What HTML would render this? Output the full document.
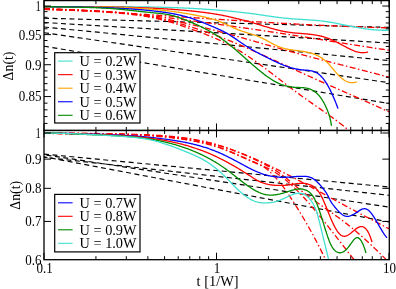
<!DOCTYPE html><html><head><meta charset="utf-8"><style>html,body{margin:0;padding:0;background:#fff;}svg{display:block}</style></head><body>
<svg width="396" height="289" viewBox="0 0 396 289">
<defs><clipPath id="ct"><rect x="44" y="0.6" width="345.3" height="129.85"/></clipPath><clipPath id="cb"><rect x="44" y="130.45" width="345.3" height="129.25"/></clipPath></defs>
<rect width="396" height="289" fill="#fff"/>
<g clip-path="url(#ct)" fill="none" stroke-linejoin="round">
<path d="M44.00,18.20 L389.00,27.40" stroke="#000" stroke-width="1.15" stroke-dasharray="5,3.5" stroke-dashoffset="0"/>
<path d="M44.00,22.50 L389.00,43.00" stroke="#000" stroke-width="1.15" stroke-dasharray="5,3.5" stroke-dashoffset="0"/>
<path d="M44.00,27.00 L389.00,60.60" stroke="#000" stroke-width="1.15" stroke-dasharray="5,3.5" stroke-dashoffset="0"/>
<path d="M44.00,32.70 L389.00,82.70" stroke="#000" stroke-width="1.15" stroke-dasharray="5,3.5" stroke-dashoffset="0"/>
<path d="M44.00,46.20 L389.00,103.50" stroke="#000" stroke-width="1.15" stroke-dasharray="5,3.5" stroke-dashoffset="0"/>
<path d="M44.00,8.44 L44.75,8.47 L45.50,8.51 L46.25,8.54 L47.00,8.58 L47.75,8.62 L48.50,8.65 L49.25,8.69 L50.00,8.72 L50.75,8.76 L51.50,8.80 L52.25,8.84 L53.00,8.87 L53.75,8.91 L54.50,8.95 L55.25,8.99 L56.00,9.02 L56.75,9.06 L57.50,9.10 L58.25,9.14 L59.00,9.18 L59.75,9.22 L60.50,9.25 L61.25,9.29 L62.00,9.33 L62.75,9.37 L63.50,9.41 L64.25,9.45 L65.00,9.49 L65.75,9.53 L66.50,9.57 L67.25,9.61 L68.00,9.65 L68.75,9.69 L69.50,9.73 L70.25,9.77 L71.00,9.81 L71.75,9.85 L72.50,9.90 L73.25,9.94 L74.00,9.98 L74.75,10.02 L75.50,10.06 L76.25,10.10 L77.00,10.15 L77.75,10.19 L78.50,10.23 L79.25,10.27 L80.00,10.32 L80.75,10.36 L81.50,10.40 L82.25,10.44 L83.00,10.49 L83.75,10.53 L84.50,10.57 L85.25,10.62 L86.00,10.66 L86.75,10.70 L87.50,10.75 L88.25,10.79 L89.00,10.84 L89.75,10.88 L90.50,10.93 L91.25,10.97 L92.00,11.01 L92.75,11.06 L93.50,11.10 L94.25,11.15 L95.00,11.19 L95.75,11.24 L96.50,11.28 L97.25,11.33 L98.00,11.37 L98.75,11.42 L99.50,11.47 L100.25,11.51 L101.00,11.56 L101.75,11.60 L102.50,11.65 L103.25,11.70 L104.00,11.74 L104.75,11.79 L105.50,11.83 L106.25,11.88 L107.00,11.93 L107.75,11.97 L108.50,12.02 L109.25,12.07 L110.00,12.11 L110.75,12.16 L111.50,12.21 L112.25,12.26 L113.00,12.30 L113.75,12.35 L114.50,12.40 L115.25,12.45 L116.00,12.49 L116.75,12.54 L117.50,12.59 L118.25,12.64 L119.00,12.69 L119.75,12.73 L120.50,12.78 L121.25,12.83 L122.00,12.88 L122.75,12.93 L123.50,12.97 L124.25,13.02 L125.00,13.07 L125.75,13.12 L126.50,13.17 L127.25,13.22 L128.00,13.27 L128.75,13.32 L129.50,13.36 L130.25,13.41 L131.00,13.46 L131.75,13.51 L132.50,13.56 L133.25,13.61 L134.00,13.66 L134.75,13.71 L135.50,13.76 L136.25,13.81 L137.00,13.86 L137.75,13.91 L138.50,13.96 L139.25,14.01 L140.00,14.06 L140.75,14.11 L141.50,14.16 L142.25,14.21 L143.00,14.26 L143.75,14.31 L144.50,14.36 L145.25,14.41 L146.00,14.46 L146.75,14.51 L147.50,14.56 L148.25,14.61 L149.00,14.66 L149.75,14.71 L150.50,14.76 L151.25,14.81 L152.00,14.86 L152.75,14.91 L153.50,14.96 L154.25,15.01 L155.00,15.06 L155.75,15.11 L156.50,15.16 L157.25,15.21 L158.00,15.26 L158.75,15.31 L159.50,15.37 L160.25,15.42 L161.00,15.47 L161.75,15.52 L162.50,15.57 L163.25,15.62 L164.00,15.67 L164.75,15.72 L165.50,15.77 L166.25,15.82 L167.00,15.87 L167.75,15.92 L168.50,15.98 L169.25,16.03 L170.00,16.08 L170.75,16.13 L171.50,16.18 L172.25,16.23 L173.00,16.28 L173.75,16.33 L174.50,16.38 L175.25,16.43 L176.00,16.49 L176.75,16.54 L177.50,16.59 L178.25,16.64 L179.00,16.69 L179.75,16.74 L180.50,16.79 L181.25,16.84 L182.00,16.89 L182.75,16.94 L183.50,17.00 L184.25,17.05 L185.00,17.10 L185.75,17.15 L186.50,17.20 L187.25,17.25 L188.00,17.30 L188.75,17.35 L189.50,17.40 L190.25,17.45 L191.00,17.50 L191.75,17.55 L192.50,17.61 L193.25,17.66 L194.00,17.71 L194.75,17.76 L195.50,17.81 L196.25,17.86 L197.00,17.91 L197.75,17.96 L198.50,18.01 L199.25,18.06 L200.00,18.11 L200.75,18.16 L201.50,18.21 L202.25,18.26 L203.00,18.31 L203.75,18.36 L204.50,18.41 L205.25,18.47 L206.00,18.52 L206.75,18.57 L207.50,18.62 L208.25,18.67 L209.00,18.72 L209.75,18.77 L210.50,18.82 L211.25,18.87 L212.00,18.92 L212.75,18.97 L213.50,19.02 L214.25,19.07 L215.00,19.12 L215.75,19.16 L216.50,19.21 L217.25,19.26 L218.00,19.31 L218.75,19.36 L219.50,19.41 L220.25,19.46 L221.00,19.51 L221.75,19.56 L222.50,19.61 L223.25,19.66 L224.00,19.71 L224.75,19.76 L225.50,19.81 L226.25,19.85 L227.00,19.90 L227.75,19.95 L228.50,20.00 L229.25,20.05 L230.00,20.10 L230.75,20.15 L231.50,20.19 L232.25,20.24 L233.00,20.29 L233.75,20.34 L234.50,20.39 L235.25,20.44 L236.00,20.48 L236.75,20.53 L237.50,20.58 L238.25,20.63 L239.00,20.67 L239.75,20.72 L240.50,20.77 L241.25,20.82 L242.00,20.86 L242.75,20.91 L243.50,20.96 L244.25,21.01 L245.00,21.05 L245.75,21.10 L246.50,21.15 L247.25,21.19 L248.00,21.24 L248.75,21.29 L249.50,21.33 L250.25,21.38 L251.00,21.43 L251.75,21.47 L252.50,21.52 L253.25,21.57 L254.00,21.61 L254.75,21.66 L255.50,21.70 L256.25,21.75 L257.00,21.80 L257.75,21.84 L258.50,21.89 L259.25,21.93 L260.00,21.98 L260.75,22.02 L261.50,22.07 L262.25,22.11 L263.00,22.16 L263.75,22.20 L264.50,22.25 L265.25,22.29 L266.00,22.34 L266.75,22.38 L267.50,22.43 L268.25,22.47 L269.00,22.52 L269.75,22.56 L270.50,22.60 L271.25,22.65 L272.00,22.69 L272.75,22.74 L273.50,22.78 L274.25,22.82 L275.00,22.87 L275.75,22.91 L276.50,22.95 L277.25,23.00 L278.00,23.04 L278.75,23.08 L279.50,23.13 L280.25,23.17 L281.00,23.21 L281.75,23.25 L282.50,23.30 L283.25,23.34 L284.00,23.38 L284.75,23.42 L285.50,23.46 L286.25,23.51 L287.00,23.55 L287.75,23.59 L288.50,23.63 L289.25,23.67 L290.00,23.71 L290.75,23.75 L291.50,23.80 L292.25,23.84 L293.00,23.88 L293.75,23.92 L294.50,23.96 L295.25,24.00 L296.00,24.04 L296.75,24.08 L297.50,24.12 L298.25,24.16 L299.00,24.20 L299.75,24.24 L300.50,24.28 L301.25,24.32 L302.00,24.36 L302.75,24.40 L303.50,24.44 L304.25,24.47 L305.00,24.51 L305.75,24.55 L306.50,24.59 L307.25,24.63 L308.00,24.67 L308.75,24.70 L309.50,24.74 L310.25,24.78 L311.00,24.82 L311.75,24.86 L312.50,24.89 L313.25,24.93 L314.00,24.97 L314.75,25.00 L315.50,25.04 L316.25,25.08 L317.00,25.11 L317.75,25.15 L318.50,25.19 L319.25,25.22 L320.00,25.26 L320.75,25.30 L321.50,25.33 L322.25,25.37 L323.00,25.40 L323.75,25.44 L324.50,25.47 L325.25,25.51 L326.00,25.54 L326.75,25.58 L327.50,25.61 L328.25,25.65 L329.00,25.68 L329.75,25.71 L330.50,25.75 L331.25,25.78 L332.00,25.82 L332.75,25.85 L333.50,25.88 L334.25,25.92 L335.00,25.95 L335.75,25.98 L336.50,26.01 L337.25,26.05 L338.00,26.08 L338.75,26.11 L339.50,26.14 L340.25,26.18 L341.00,26.21 L341.75,26.24 L342.50,26.27 L343.25,26.30 L344.00,26.33 L344.75,26.36 L345.50,26.39 L346.25,26.42 L347.00,26.46 L347.75,26.49 L348.50,26.52 L349.25,26.55 L350.00,26.58 L350.75,26.60 L351.50,26.63 L352.25,26.66 L353.00,26.69 L353.75,26.72 L354.50,26.75 L355.25,26.78 L356.00,26.81 L356.75,26.84 L357.50,26.86 L358.25,26.89 L359.00,26.92 L359.75,26.95 L360.50,26.97 L361.25,27.00 L362.00,27.03 L362.75,27.05 L363.50,27.08 L364.25,27.11 L365.00,27.13 L365.75,27.16 L366.50,27.19 L367.25,27.21 L368.00,27.24 L368.75,27.26 L369.50,27.29 L370.25,27.31 L371.00,27.34 L371.75,27.36 L372.50,27.39 L373.25,27.41 L374.00,27.43 L374.75,27.46 L375.50,27.48 L376.25,27.50 L377.00,27.53 L377.75,27.55 L378.50,27.57 L379.25,27.60 L380.00,27.62 L380.75,27.64 L381.50,27.66 L382.25,27.68 L383.00,27.71 L383.75,27.73 L384.50,27.75 L385.25,27.77 L386.00,27.79 L386.75,27.81 L387.50,27.83 L388.25,27.85 L389.00,27.87" stroke="#ff0000" stroke-width="1.3" stroke-dasharray="6,2.5,1.5,2.5"/>
<path d="M44.00,9.19 L44.75,9.19 L45.50,9.19 L46.25,9.20 L47.00,9.20 L47.75,9.20 L48.50,9.21 L49.25,9.22 L50.00,9.22 L50.75,9.23 L51.50,9.24 L52.25,9.25 L53.00,9.25 L53.75,9.26 L54.50,9.28 L55.25,9.29 L56.00,9.30 L56.75,9.31 L57.50,9.33 L58.25,9.34 L59.00,9.36 L59.75,9.37 L60.50,9.39 L61.25,9.41 L62.00,9.42 L62.75,9.44 L63.50,9.46 L64.25,9.48 L65.00,9.50 L65.75,9.53 L66.50,9.55 L67.25,9.57 L68.00,9.60 L68.75,9.62 L69.50,9.64 L70.25,9.67 L71.00,9.70 L71.75,9.72 L72.50,9.75 L73.25,9.78 L74.00,9.81 L74.75,9.84 L75.50,9.87 L76.25,9.90 L77.00,9.93 L77.75,9.96 L78.50,10.00 L79.25,10.03 L80.00,10.07 L80.75,10.10 L81.50,10.14 L82.25,10.17 L83.00,10.21 L83.75,10.25 L84.50,10.29 L85.25,10.32 L86.00,10.36 L86.75,10.40 L87.50,10.44 L88.25,10.49 L89.00,10.53 L89.75,10.57 L90.50,10.61 L91.25,10.66 L92.00,10.70 L92.75,10.75 L93.50,10.79 L94.25,10.84 L95.00,10.88 L95.75,10.93 L96.50,10.98 L97.25,11.03 L98.00,11.08 L98.75,11.13 L99.50,11.18 L100.25,11.23 L101.00,11.28 L101.75,11.33 L102.50,11.38 L103.25,11.43 L104.00,11.49 L104.75,11.54 L105.50,11.60 L106.25,11.65 L107.00,11.71 L107.75,11.76 L108.50,11.82 L109.25,11.88 L110.00,11.93 L110.75,11.99 L111.50,12.05 L112.25,12.11 L113.00,12.17 L113.75,12.23 L114.50,12.29 L115.25,12.35 L116.00,12.41 L116.75,12.48 L117.50,12.54 L118.25,12.60 L119.00,12.67 L119.75,12.73 L120.50,12.80 L121.25,12.86 L122.00,12.93 L122.75,12.99 L123.50,13.06 L124.25,13.13 L125.00,13.19 L125.75,13.26 L126.50,13.33 L127.25,13.40 L128.00,13.47 L128.75,13.54 L129.50,13.61 L130.25,13.68 L131.00,13.75 L131.75,13.82 L132.50,13.89 L133.25,13.97 L134.00,14.04 L134.75,14.11 L135.50,14.19 L136.25,14.26 L137.00,14.34 L137.75,14.41 L138.50,14.49 L139.25,14.56 L140.00,14.64 L140.75,14.72 L141.50,14.79 L142.25,14.87 L143.00,14.95 L143.75,15.03 L144.50,15.11 L145.25,15.19 L146.00,15.26 L146.75,15.34 L147.50,15.43 L148.25,15.51 L149.00,15.59 L149.75,15.67 L150.50,15.75 L151.25,15.83 L152.00,15.91 L152.75,16.00 L153.50,16.08 L154.25,16.16 L155.00,16.25 L155.75,16.33 L156.50,16.42 L157.25,16.50 L158.00,16.59 L158.75,16.67 L159.50,16.76 L160.25,16.85 L161.00,16.93 L161.75,17.02 L162.50,17.11 L163.25,17.19 L164.00,17.28 L164.75,17.37 L165.50,17.46 L166.25,17.55 L167.00,17.64 L167.75,17.73 L168.50,17.82 L169.25,17.91 L170.00,18.00 L170.75,18.09 L171.50,18.18 L172.25,18.27 L173.00,18.36 L173.75,18.45 L174.50,18.54 L175.25,18.64 L176.00,18.73 L176.75,18.82 L177.50,18.92 L178.25,19.01 L179.00,19.10 L179.75,19.20 L180.50,19.29 L181.25,19.39 L182.00,19.48 L182.75,19.57 L183.50,19.67 L184.25,19.77 L185.00,19.86 L185.75,19.96 L186.50,20.05 L187.25,20.15 L188.00,20.25 L188.75,20.34 L189.50,20.44 L190.25,20.54 L191.00,20.63 L191.75,20.73 L192.50,20.83 L193.25,20.93 L194.00,21.03 L194.75,21.12 L195.50,21.22 L196.25,21.32 L197.00,21.42 L197.75,21.52 L198.50,21.62 L199.25,21.72 L200.00,21.82 L200.75,21.92 L201.50,22.02 L202.25,22.12 L203.00,22.22 L203.75,22.32 L204.50,22.42 L205.25,22.52 L206.00,22.62 L206.75,22.72 L207.50,22.83 L208.25,22.93 L209.00,23.03 L209.75,23.13 L210.50,23.23 L211.25,23.33 L212.00,23.44 L212.75,23.54 L213.50,23.64 L214.25,23.74 L215.00,23.85 L215.75,23.95 L216.50,24.05 L217.25,24.16 L218.00,24.26 L218.75,24.36 L219.50,24.46 L220.25,24.57 L221.00,24.67 L221.75,24.78 L222.50,24.88 L223.25,24.98 L224.00,25.09 L224.75,25.19 L225.50,25.30 L226.25,25.40 L227.00,25.50 L227.75,25.61 L228.50,25.71 L229.25,25.82 L230.00,25.92 L230.75,26.03 L231.50,26.13 L232.25,26.24 L233.00,26.34 L233.75,26.45 L234.50,26.56 L235.25,26.66 L236.00,26.77 L236.75,26.87 L237.50,26.98 L238.25,27.09 L239.00,27.19 L239.75,27.30 L240.50,27.40 L241.25,27.51 L242.00,27.62 L242.75,27.72 L243.50,27.83 L244.25,27.94 L245.00,28.05 L245.75,28.15 L246.50,28.26 L247.25,28.37 L248.00,28.48 L248.75,28.58 L249.50,28.69 L250.25,28.80 L251.00,28.91 L251.75,29.02 L252.50,29.13 L253.25,29.23 L254.00,29.34 L254.75,29.45 L255.50,29.56 L256.25,29.67 L257.00,29.78 L257.75,29.89 L258.50,30.00 L259.25,30.11 L260.00,30.22 L260.75,30.33 L261.50,30.44 L262.25,30.55 L263.00,30.66 L263.75,30.77 L264.50,30.88 L265.25,30.99 L266.00,31.10 L266.75,31.21 L267.50,31.32 L268.25,31.44 L269.00,31.55 L269.75,31.66 L270.50,31.77 L271.25,31.88 L272.00,31.99 L272.75,32.11 L273.50,32.22 L274.25,32.33 L275.00,32.44 L275.75,32.56 L276.50,32.67 L277.25,32.78 L278.00,32.89 L278.75,33.01 L279.50,33.12 L280.25,33.23 L281.00,33.35 L281.75,33.46 L282.50,33.58 L283.25,33.69 L284.00,33.80 L284.75,33.92 L285.50,34.03 L286.25,34.15 L287.00,34.26 L287.75,34.38 L288.50,34.49 L289.25,34.61 L290.00,34.72 L290.75,34.84 L291.50,34.95 L292.25,35.07 L293.00,35.18 L293.75,35.30 L294.50,35.42 L295.25,35.53 L296.00,35.65 L296.75,35.77 L297.50,35.88 L298.25,36.00 L299.00,36.12 L299.75,36.23 L300.50,36.35 L301.25,36.47 L302.00,36.59 L302.75,36.70 L303.50,36.82 L304.25,36.94 L305.00,37.06 L305.75,37.18 L306.50,37.30 L307.25,37.42 L308.00,37.53 L308.75,37.65 L309.50,37.77 L310.25,37.89 L311.00,38.01 L311.75,38.13 L312.50,38.25 L313.25,38.37 L314.00,38.49 L314.75,38.61 L315.50,38.73 L316.25,38.85 L317.00,38.97 L317.75,39.09 L318.50,39.21 L319.25,39.33 L320.00,39.45 L320.75,39.57 L321.50,39.69 L322.25,39.81 L323.00,39.93 L323.75,40.05 L324.50,40.17 L325.25,40.29 L326.00,40.41 L326.75,40.53 L327.50,40.66 L328.25,40.78 L329.00,40.90 L329.75,41.02 L330.50,41.14 L331.25,41.26 L332.00,41.38 L332.75,41.50 L333.50,41.62 L334.25,41.74 L335.00,41.86 L335.75,41.98 L336.50,42.11 L337.25,42.23 L338.00,42.35 L338.75,42.47 L339.50,42.59 L340.25,42.71 L341.00,42.83 L341.75,42.95 L342.50,43.07 L343.25,43.19 L344.00,43.31 L344.75,43.43 L345.50,43.55 L346.25,43.67 L347.00,43.79 L347.75,43.91 L348.50,44.03 L349.25,44.15 L350.00,44.27 L350.75,44.39 L351.50,44.51 L352.25,44.63 L353.00,44.75 L353.75,44.87 L354.50,44.98 L355.25,45.10 L356.00,45.22 L356.75,45.34 L357.50,45.46 L358.25,45.58 L359.00,45.70 L359.75,45.81 L360.50,45.93 L361.25,46.05 L362.00,46.17 L362.75,46.28 L363.50,46.40 L364.25,46.52 L365.00,46.63 L365.75,46.75 L366.50,46.87 L367.25,46.98 L368.00,47.10 L368.75,47.22 L369.50,47.33 L370.25,47.45 L371.00,47.56 L371.75,47.68 L372.50,47.79 L373.25,47.91 L374.00,48.02 L374.75,48.13 L375.50,48.25 L376.25,48.36 L377.00,48.48 L377.75,48.59 L378.50,48.70 L379.25,48.81 L380.00,48.93 L380.75,49.04 L381.50,49.15 L382.25,49.26 L383.00,49.37 L383.75,49.48 L384.50,49.59 L385.25,49.71 L386.00,49.82 L386.75,49.93 L387.50,50.03 L388.25,50.14 L389.00,50.25" stroke="#ff0000" stroke-width="1.3" stroke-dasharray="6,2.5,1.5,2.5"/>
<path d="M44.00,9.21 L44.75,9.24 L45.50,9.27 L46.25,9.29 L47.00,9.32 L47.75,9.34 L48.50,9.37 L49.25,9.39 L50.00,9.41 L50.75,9.44 L51.50,9.46 L52.25,9.48 L53.00,9.51 L53.75,9.53 L54.50,9.55 L55.25,9.58 L56.00,9.60 L56.75,9.62 L57.50,9.64 L58.25,9.66 L59.00,9.69 L59.75,9.71 L60.50,9.73 L61.25,9.75 L62.00,9.77 L62.75,9.79 L63.50,9.81 L64.25,9.84 L65.00,9.86 L65.75,9.88 L66.50,9.90 L67.25,9.92 L68.00,9.94 L68.75,9.97 L69.50,9.99 L70.25,10.01 L71.00,10.03 L71.75,10.05 L72.50,10.08 L73.25,10.10 L74.00,10.12 L74.75,10.15 L75.50,10.17 L76.25,10.19 L77.00,10.22 L77.75,10.24 L78.50,10.27 L79.25,10.29 L80.00,10.32 L80.75,10.34 L81.50,10.37 L82.25,10.39 L83.00,10.42 L83.75,10.45 L84.50,10.47 L85.25,10.50 L86.00,10.53 L86.75,10.56 L87.50,10.59 L88.25,10.62 L89.00,10.65 L89.75,10.68 L90.50,10.71 L91.25,10.75 L92.00,10.78 L92.75,10.81 L93.50,10.85 L94.25,10.88 L95.00,10.92 L95.75,10.95 L96.50,10.99 L97.25,11.03 L98.00,11.06 L98.75,11.10 L99.50,11.14 L100.25,11.18 L101.00,11.22 L101.75,11.26 L102.50,11.31 L103.25,11.35 L104.00,11.40 L104.75,11.44 L105.50,11.49 L106.25,11.53 L107.00,11.58 L107.75,11.63 L108.50,11.68 L109.25,11.73 L110.00,11.78 L110.75,11.84 L111.50,11.89 L112.25,11.94 L113.00,12.00 L113.75,12.06 L114.50,12.11 L115.25,12.17 L116.00,12.23 L116.75,12.29 L117.50,12.36 L118.25,12.42 L119.00,12.48 L119.75,12.55 L120.50,12.62 L121.25,12.68 L122.00,12.75 L122.75,12.82 L123.50,12.90 L124.25,12.97 L125.00,13.04 L125.75,13.12 L126.50,13.20 L127.25,13.27 L128.00,13.35 L128.75,13.43 L129.50,13.52 L130.25,13.60 L131.00,13.69 L131.75,13.77 L132.50,13.86 L133.25,13.95 L134.00,14.04 L134.75,14.13 L135.50,14.23 L136.25,14.32 L137.00,14.42 L137.75,14.52 L138.50,14.62 L139.25,14.72 L140.00,14.82 L140.75,14.92 L141.50,15.03 L142.25,15.13 L143.00,15.24 L143.75,15.35 L144.50,15.46 L145.25,15.57 L146.00,15.68 L146.75,15.79 L147.50,15.91 L148.25,16.02 L149.00,16.14 L149.75,16.26 L150.50,16.38 L151.25,16.50 L152.00,16.62 L152.75,16.74 L153.50,16.87 L154.25,17.00 L155.00,17.12 L155.75,17.25 L156.50,17.38 L157.25,17.51 L158.00,17.64 L158.75,17.77 L159.50,17.91 L160.25,18.04 L161.00,18.18 L161.75,18.32 L162.50,18.45 L163.25,18.59 L164.00,18.73 L164.75,18.88 L165.50,19.02 L166.25,19.16 L167.00,19.31 L167.75,19.45 L168.50,19.60 L169.25,19.75 L170.00,19.90 L170.75,20.05 L171.50,20.20 L172.25,20.35 L173.00,20.50 L173.75,20.66 L174.50,20.81 L175.25,20.97 L176.00,21.12 L176.75,21.28 L177.50,21.44 L178.25,21.60 L179.00,21.76 L179.75,21.92 L180.50,22.08 L181.25,22.25 L182.00,22.41 L182.75,22.58 L183.50,22.74 L184.25,22.91 L185.00,23.08 L185.75,23.25 L186.50,23.42 L187.25,23.59 L188.00,23.76 L188.75,23.93 L189.50,24.10 L190.25,24.28 L191.00,24.45 L191.75,24.63 L192.50,24.80 L193.25,24.98 L194.00,25.16 L194.75,25.33 L195.50,25.51 L196.25,25.69 L197.00,25.87 L197.75,26.06 L198.50,26.24 L199.25,26.42 L200.00,26.60 L200.75,26.79 L201.50,26.97 L202.25,27.16 L203.00,27.34 L203.75,27.53 L204.50,27.72 L205.25,27.91 L206.00,28.10 L206.75,28.29 L207.50,28.48 L208.25,28.67 L209.00,28.86 L209.75,29.05 L210.50,29.24 L211.25,29.44 L212.00,29.63 L212.75,29.82 L213.50,30.02 L214.25,30.21 L215.00,30.41 L215.75,30.61 L216.50,30.80 L217.25,31.00 L218.00,31.20 L218.75,31.40 L219.50,31.60 L220.25,31.80 L221.00,32.00 L221.75,32.20 L222.50,32.40 L223.25,32.60 L224.00,32.80 L224.75,33.01 L225.50,33.21 L226.25,33.41 L227.00,33.62 L227.75,33.82 L228.50,34.02 L229.25,34.23 L230.00,34.43 L230.75,34.64 L231.50,34.85 L232.25,35.05 L233.00,35.26 L233.75,35.47 L234.50,35.67 L235.25,35.88 L236.00,36.09 L236.75,36.30 L237.50,36.51 L238.25,36.72 L239.00,36.93 L239.75,37.14 L240.50,37.35 L241.25,37.56 L242.00,37.77 L242.75,37.98 L243.50,38.19 L244.25,38.40 L245.00,38.61 L245.75,38.82 L246.50,39.03 L247.25,39.25 L248.00,39.46 L248.75,39.67 L249.50,39.88 L250.25,40.10 L251.00,40.31 L251.75,40.52 L252.50,40.73 L253.25,40.95 L254.00,41.16 L254.75,41.37 L255.50,41.59 L256.25,41.80 L257.00,42.01 L257.75,42.23 L258.50,42.44 L259.25,42.66 L260.00,42.87 L260.75,43.08 L261.50,43.30 L262.25,43.51 L263.00,43.73 L263.75,43.94 L264.50,44.15 L265.25,44.37 L266.00,44.58 L266.75,44.80 L267.50,45.01 L268.25,45.22 L269.00,45.44 L269.75,45.65 L270.50,45.87 L271.25,46.08 L272.00,46.29 L272.75,46.51 L273.50,46.72 L274.25,46.93 L275.00,47.15 L275.75,47.36 L276.50,47.57 L277.25,47.78 L278.00,48.00 L278.75,48.21 L279.50,48.42 L280.25,48.63 L281.00,48.85 L281.75,49.06 L282.50,49.27 L283.25,49.48 L284.00,49.69 L284.75,49.90 L285.50,50.11 L286.25,50.32 L287.00,50.53 L287.75,50.74 L288.50,50.95 L289.25,51.16 L290.00,51.37 L290.75,51.58 L291.50,51.79 L292.25,52.00 L293.00,52.20 L293.75,52.41 L294.50,52.62 L295.25,52.82 L296.00,53.03 L296.75,53.24 L297.50,53.44 L298.25,53.65 L299.00,53.85 L299.75,54.06 L300.50,54.26 L301.25,54.46 L302.00,54.67 L302.75,54.87 L303.50,55.07 L304.25,55.28 L305.00,55.48 L305.75,55.68 L306.50,55.88 L307.25,56.08 L308.00,56.28 L308.75,56.48 L309.50,56.68 L310.25,56.88 L311.00,57.07 L311.75,57.27 L312.50,57.47 L313.25,57.67 L314.00,57.86 L314.75,58.06 L315.50,58.26 L316.25,58.45 L317.00,58.65 L317.75,58.84 L318.50,59.04 L319.25,59.23 L320.00,59.43 L320.75,59.62 L321.50,59.82 L322.25,60.01 L323.00,60.20 L323.75,60.40 L324.50,60.59 L325.25,60.78 L326.00,60.98 L326.75,61.17 L327.50,61.36 L328.25,61.55 L329.00,61.74 L329.75,61.94 L330.50,62.13 L331.25,62.32 L332.00,62.51 L332.75,62.70 L333.50,62.89 L334.25,63.08 L335.00,63.27 L335.75,63.46 L336.50,63.65 L337.25,63.85 L338.00,64.04 L338.75,64.23 L339.50,64.42 L340.25,64.61 L341.00,64.80 L341.75,64.99 L342.50,65.18 L343.25,65.37 L344.00,65.56 L344.75,65.75 L345.50,65.94 L346.25,66.13 L347.00,66.32 L347.75,66.51 L348.50,66.70 L349.25,66.89 L350.00,67.08 L350.75,67.27 L351.50,67.46 L352.25,67.65 L353.00,67.84 L353.75,68.03 L354.50,68.22 L355.25,68.41 L356.00,68.60 L356.75,68.79 L357.50,68.98 L358.25,69.18 L359.00,69.37 L359.75,69.56 L360.50,69.75 L361.25,69.94 L362.00,70.13 L362.75,70.33 L363.50,70.52 L364.25,70.71 L365.00,70.90 L365.75,71.10 L366.50,71.29 L367.25,71.48 L368.00,71.68 L368.75,71.87 L369.50,72.07 L370.25,72.26 L371.00,72.46 L371.75,72.65 L372.50,72.85 L373.25,73.04 L374.00,73.24 L374.75,73.43 L375.50,73.63 L376.25,73.83 L377.00,74.03 L377.75,74.22 L378.50,74.42 L379.25,74.62 L380.00,74.82 L380.75,75.02 L381.50,75.22 L382.25,75.42 L383.00,75.62 L383.75,75.82 L384.50,76.02 L385.25,76.22 L386.00,76.42 L386.75,76.62 L387.50,76.83 L388.25,77.03 L389.00,77.23" stroke="#ff0000" stroke-width="1.3" stroke-dasharray="6,2.5,1.5,2.5"/>
<path d="M44.00,9.00 L44.75,9.05 L45.50,9.10 L46.25,9.15 L47.00,9.19 L47.75,9.24 L48.50,9.29 L49.25,9.33 L50.00,9.37 L50.75,9.42 L51.50,9.46 L52.25,9.50 L53.00,9.54 L53.75,9.58 L54.50,9.62 L55.25,9.66 L56.00,9.69 L56.75,9.73 L57.50,9.77 L58.25,9.80 L59.00,9.84 L59.75,9.87 L60.50,9.91 L61.25,9.94 L62.00,9.97 L62.75,10.01 L63.50,10.04 L64.25,10.07 L65.00,10.10 L65.75,10.13 L66.50,10.16 L67.25,10.19 L68.00,10.22 L68.75,10.25 L69.50,10.28 L70.25,10.31 L71.00,10.34 L71.75,10.36 L72.50,10.39 L73.25,10.42 L74.00,10.45 L74.75,10.47 L75.50,10.50 L76.25,10.53 L77.00,10.56 L77.75,10.58 L78.50,10.61 L79.25,10.64 L80.00,10.66 L80.75,10.69 L81.50,10.72 L82.25,10.74 L83.00,10.77 L83.75,10.80 L84.50,10.83 L85.25,10.85 L86.00,10.88 L86.75,10.91 L87.50,10.94 L88.25,10.96 L89.00,10.99 L89.75,11.02 L90.50,11.05 L91.25,11.08 L92.00,11.11 L92.75,11.14 L93.50,11.17 L94.25,11.20 L95.00,11.23 L95.75,11.26 L96.50,11.30 L97.25,11.33 L98.00,11.36 L98.75,11.40 L99.50,11.43 L100.25,11.47 L101.00,11.50 L101.75,11.54 L102.50,11.58 L103.25,11.62 L104.00,11.66 L104.75,11.70 L105.50,11.74 L106.25,11.78 L107.00,11.82 L107.75,11.87 L108.50,11.91 L109.25,11.96 L110.00,12.00 L110.75,12.05 L111.50,12.10 L112.25,12.15 L113.00,12.20 L113.75,12.26 L114.50,12.31 L115.25,12.37 L116.00,12.42 L116.75,12.48 L117.50,12.54 L118.25,12.60 L119.00,12.66 L119.75,12.73 L120.50,12.79 L121.25,12.86 L122.00,12.93 L122.75,13.00 L123.50,13.07 L124.25,13.14 L125.00,13.22 L125.75,13.29 L126.50,13.37 L127.25,13.45 L128.00,13.53 L128.75,13.62 L129.50,13.70 L130.25,13.79 L131.00,13.88 L131.75,13.97 L132.50,14.06 L133.25,14.16 L134.00,14.25 L134.75,14.35 L135.50,14.45 L136.25,14.56 L137.00,14.66 L137.75,14.77 L138.50,14.87 L139.25,14.98 L140.00,15.10 L140.75,15.21 L141.50,15.33 L142.25,15.44 L143.00,15.56 L143.75,15.68 L144.50,15.81 L145.25,15.93 L146.00,16.06 L146.75,16.19 L147.50,16.32 L148.25,16.45 L149.00,16.58 L149.75,16.72 L150.50,16.86 L151.25,17.00 L152.00,17.14 L152.75,17.28 L153.50,17.43 L154.25,17.57 L155.00,17.72 L155.75,17.87 L156.50,18.03 L157.25,18.18 L158.00,18.33 L158.75,18.49 L159.50,18.65 L160.25,18.81 L161.00,18.98 L161.75,19.14 L162.50,19.31 L163.25,19.47 L164.00,19.64 L164.75,19.82 L165.50,19.99 L166.25,20.16 L167.00,20.34 L167.75,20.52 L168.50,20.70 L169.25,20.88 L170.00,21.06 L170.75,21.25 L171.50,21.44 L172.25,21.62 L173.00,21.81 L173.75,22.01 L174.50,22.20 L175.25,22.40 L176.00,22.59 L176.75,22.79 L177.50,22.99 L178.25,23.19 L179.00,23.40 L179.75,23.60 L180.50,23.81 L181.25,24.02 L182.00,24.23 L182.75,24.44 L183.50,24.65 L184.25,24.87 L185.00,25.08 L185.75,25.30 L186.50,25.52 L187.25,25.74 L188.00,25.97 L188.75,26.19 L189.50,26.42 L190.25,26.65 L191.00,26.87 L191.75,27.11 L192.50,27.34 L193.25,27.57 L194.00,27.81 L194.75,28.04 L195.50,28.28 L196.25,28.52 L197.00,28.77 L197.75,29.01 L198.50,29.25 L199.25,29.50 L200.00,29.75 L200.75,30.00 L201.50,30.25 L202.25,30.50 L203.00,30.76 L203.75,31.01 L204.50,31.27 L205.25,31.53 L206.00,31.79 L206.75,32.05 L207.50,32.31 L208.25,32.58 L209.00,32.84 L209.75,33.11 L210.50,33.38 L211.25,33.65 L212.00,33.92 L212.75,34.19 L213.50,34.47 L214.25,34.74 L215.00,35.02 L215.75,35.30 L216.50,35.58 L217.25,35.86 L218.00,36.15 L218.75,36.43 L219.50,36.72 L220.25,37.00 L221.00,37.29 L221.75,37.58 L222.50,37.87 L223.25,38.17 L224.00,38.46 L224.75,38.76 L225.50,39.05 L226.25,39.35 L227.00,39.65 L227.75,39.95 L228.50,40.25 L229.25,40.55 L230.00,40.86 L230.75,41.16 L231.50,41.47 L232.25,41.78 L233.00,42.08 L233.75,42.39 L234.50,42.70 L235.25,43.02 L236.00,43.33 L236.75,43.64 L237.50,43.96 L238.25,44.27 L239.00,44.59 L239.75,44.91 L240.50,45.22 L241.25,45.54 L242.00,45.86 L242.75,46.18 L243.50,46.51 L244.25,46.83 L245.00,47.15 L245.75,47.48 L246.50,47.80 L247.25,48.13 L248.00,48.46 L248.75,48.78 L249.50,49.11 L250.25,49.44 L251.00,49.77 L251.75,50.10 L252.50,50.43 L253.25,50.76 L254.00,51.10 L254.75,51.43 L255.50,51.76 L256.25,52.10 L257.00,52.43 L257.75,52.77 L258.50,53.11 L259.25,53.44 L260.00,53.78 L260.75,54.12 L261.50,54.46 L262.25,54.80 L263.00,55.13 L263.75,55.47 L264.50,55.81 L265.25,56.16 L266.00,56.50 L266.75,56.84 L267.50,57.18 L268.25,57.52 L269.00,57.86 L269.75,58.21 L270.50,58.55 L271.25,58.89 L272.00,59.24 L272.75,59.58 L273.50,59.93 L274.25,60.27 L275.00,60.61 L275.75,60.96 L276.50,61.30 L277.25,61.65 L278.00,61.99 L278.75,62.34 L279.50,62.69 L280.25,63.03 L281.00,63.38 L281.75,63.72 L282.50,64.07 L283.25,64.41 L284.00,64.76 L284.75,65.11 L285.50,65.45 L286.25,65.80 L287.00,66.14 L287.75,66.49 L288.50,66.84 L289.25,67.18 L290.00,67.53 L290.75,67.87 L291.50,68.22 L292.25,68.56 L293.00,68.91 L293.75,69.25 L294.50,69.60 L295.25,69.94 L296.00,70.29 L296.75,70.63 L297.50,70.97 L298.25,71.32 L299.00,71.66 L299.75,72.00 L300.50,72.35 L301.25,72.69 L302.00,73.03 L302.75,73.37 L303.50,73.71 L304.25,74.05 L305.00,74.39 L305.75,74.73 L306.50,75.07 L307.25,75.41 L308.00,75.75 L308.75,76.09 L309.50,76.43 L310.25,76.77 L311.00,77.10 L311.75,77.44 L312.50,77.78 L313.25,78.11 L314.00,78.45 L314.75,78.79 L315.50,79.12 L316.25,79.46 L317.00,79.79 L317.75,80.13 L318.50,80.46 L319.25,80.80 L320.00,81.13 L320.75,81.46 L321.50,81.80 L322.25,82.13 L323.00,82.46 L323.75,82.80 L324.50,83.13 L325.25,83.46 L326.00,83.80 L326.75,84.13 L327.50,84.46 L328.25,84.79 L329.00,85.13 L329.75,85.46 L330.50,85.79 L331.25,86.12 L332.00,86.45 L332.75,86.78 L333.50,87.11 L334.25,87.45 L335.00,87.78 L335.75,88.11 L336.50,88.44 L337.25,88.77 L338.00,89.10 L338.75,89.43 L339.50,89.76 L340.25,90.09 L341.00,90.42 L341.75,90.75 L342.50,91.08 L343.25,91.41 L344.00,91.74 L344.75,92.07 L345.50,92.41 L346.25,92.74 L347.00,93.07 L347.75,93.40 L348.50,93.73 L349.25,94.06 L350.00,94.39 L350.75,94.72 L351.50,95.05 L352.25,95.38 L353.00,95.71 L353.75,96.04 L354.50,96.37 L355.25,96.71 L356.00,97.04 L356.75,97.37 L357.50,97.70 L358.25,98.03 L359.00,98.36 L359.75,98.70 L360.50,99.03 L361.25,99.36 L362.00,99.69 L362.75,100.03 L363.50,100.36 L364.25,100.69 L365.00,101.03 L365.75,101.36 L366.50,101.69 L367.25,102.03 L368.00,102.36 L368.75,102.70 L369.50,103.03 L370.25,103.37 L371.00,103.70 L371.75,104.04 L372.50,104.37 L373.25,104.71 L374.00,105.04 L374.75,105.38 L375.50,105.72 L376.25,106.06 L377.00,106.39 L377.75,106.73 L378.50,107.07 L379.25,107.41 L380.00,107.75 L380.75,108.09 L381.50,108.42 L382.25,108.76 L383.00,109.11 L383.75,109.45 L384.50,109.79 L385.25,110.13 L386.00,110.47 L386.75,110.81 L387.50,111.16 L388.25,111.50 L389.00,111.84" stroke="#ff0000" stroke-width="1.3" stroke-dasharray="6,2.5,1.5,2.5"/>
<path d="M44.00,9.41 L44.75,9.43 L45.50,9.46 L46.25,9.48 L47.00,9.51 L47.75,9.53 L48.50,9.56 L49.25,9.58 L50.00,9.60 L50.75,9.63 L51.50,9.65 L52.25,9.68 L53.00,9.70 L53.75,9.73 L54.50,9.75 L55.25,9.78 L56.00,9.80 L56.75,9.83 L57.50,9.85 L58.25,9.88 L59.00,9.90 L59.75,9.93 L60.50,9.95 L61.25,9.98 L62.00,10.01 L62.75,10.03 L63.50,10.06 L64.25,10.08 L65.00,10.11 L65.75,10.14 L66.50,10.16 L67.25,10.19 L68.00,10.22 L68.75,10.25 L69.50,10.27 L70.25,10.30 L71.00,10.33 L71.75,10.36 L72.50,10.39 L73.25,10.42 L74.00,10.45 L74.75,10.48 L75.50,10.51 L76.25,10.54 L77.00,10.57 L77.75,10.60 L78.50,10.63 L79.25,10.66 L80.00,10.70 L80.75,10.73 L81.50,10.76 L82.25,10.80 L83.00,10.83 L83.75,10.86 L84.50,10.90 L85.25,10.93 L86.00,10.97 L86.75,11.01 L87.50,11.04 L88.25,11.08 L89.00,11.12 L89.75,11.16 L90.50,11.20 L91.25,11.23 L92.00,11.27 L92.75,11.32 L93.50,11.36 L94.25,11.40 L95.00,11.44 L95.75,11.48 L96.50,11.53 L97.25,11.57 L98.00,11.62 L98.75,11.66 L99.50,11.71 L100.25,11.75 L101.00,11.80 L101.75,11.85 L102.50,11.90 L103.25,11.95 L104.00,12.00 L104.75,12.05 L105.50,12.10 L106.25,12.15 L107.00,12.20 L107.75,12.26 L108.50,12.31 L109.25,12.37 L110.00,12.42 L110.75,12.48 L111.50,12.54 L112.25,12.60 L113.00,12.66 L113.75,12.72 L114.50,12.78 L115.25,12.84 L116.00,12.90 L116.75,12.97 L117.50,13.03 L118.25,13.10 L119.00,13.16 L119.75,13.23 L120.50,13.30 L121.25,13.37 L122.00,13.44 L122.75,13.51 L123.50,13.58 L124.25,13.66 L125.00,13.73 L125.75,13.81 L126.50,13.88 L127.25,13.96 L128.00,14.04 L128.75,14.12 L129.50,14.20 L130.25,14.29 L131.00,14.37 L131.75,14.46 L132.50,14.55 L133.25,14.64 L134.00,14.73 L134.75,14.83 L135.50,14.92 L136.25,15.02 L137.00,15.12 L137.75,15.22 L138.50,15.32 L139.25,15.43 L140.00,15.54 L140.75,15.64 L141.50,15.76 L142.25,15.87 L143.00,15.99 L143.75,16.11 L144.50,16.23 L145.25,16.35 L146.00,16.47 L146.75,16.60 L147.50,16.73 L148.25,16.87 L149.00,17.00 L149.75,17.14 L150.50,17.28 L151.25,17.43 L152.00,17.57 L152.75,17.72 L153.50,17.88 L154.25,18.03 L155.00,18.19 L155.75,18.35 L156.50,18.52 L157.25,18.69 L158.00,18.86 L158.75,19.03 L159.50,19.21 L160.25,19.39 L161.00,19.57 L161.75,19.76 L162.50,19.95 L163.25,20.15 L164.00,20.34 L164.75,20.54 L165.50,20.74 L166.25,20.95 L167.00,21.16 L167.75,21.37 L168.50,21.58 L169.25,21.80 L170.00,22.02 L170.75,22.24 L171.50,22.46 L172.25,22.69 L173.00,22.91 L173.75,23.15 L174.50,23.38 L175.25,23.61 L176.00,23.85 L176.75,24.09 L177.50,24.33 L178.25,24.57 L179.00,24.82 L179.75,25.07 L180.50,25.31 L181.25,25.56 L182.00,25.82 L182.75,26.07 L183.50,26.33 L184.25,26.58 L185.00,26.84 L185.75,27.10 L186.50,27.36 L187.25,27.63 L188.00,27.89 L188.75,28.15 L189.50,28.42 L190.25,28.69 L191.00,28.96 L191.75,29.23 L192.50,29.50 L193.25,29.77 L194.00,30.04 L194.75,30.31 L195.50,30.59 L196.25,30.86 L197.00,31.13 L197.75,31.41 L198.50,31.69 L199.25,31.96 L200.00,32.24 L200.75,32.52 L201.50,32.80 L202.25,33.08 L203.00,33.36 L203.75,33.65 L204.50,33.93 L205.25,34.22 L206.00,34.51 L206.75,34.80 L207.50,35.09 L208.25,35.39 L209.00,35.69 L209.75,35.99 L210.50,36.29 L211.25,36.60 L212.00,36.91 L212.75,37.22 L213.50,37.53 L214.25,37.85 L215.00,38.17 L215.75,38.49 L216.50,38.82 L217.25,39.15 L218.00,39.49 L218.75,39.83 L219.50,40.17 L220.25,40.51 L221.00,40.86 L221.75,41.22 L222.50,41.58 L223.25,41.94 L224.00,42.30 L224.75,42.67 L225.50,43.05 L226.25,43.43 L227.00,43.81 L227.75,44.19 L228.50,44.58 L229.25,44.98 L230.00,45.38 L230.75,45.78 L231.50,46.19 L232.25,46.60 L233.00,47.02 L233.75,47.44 L234.50,47.86 L235.25,48.29 L236.00,48.72 L236.75,49.16 L237.50,49.61 L238.25,50.05 L239.00,50.50 L239.75,50.96 L240.50,51.42 L241.25,51.88 L242.00,52.35 L242.75,52.82 L243.50,53.30 L244.25,53.78 L245.00,54.26 L245.75,54.75 L246.50,55.24 L247.25,55.74 L248.00,56.24 L248.75,56.74 L249.50,57.24 L250.25,57.75 L251.00,58.26 L251.75,58.78 L252.50,59.29 L253.25,59.81 L254.00,60.34 L254.75,60.86 L255.50,61.39 L256.25,61.92 L257.00,62.46 L257.75,62.99 L258.50,63.53 L259.25,64.07 L260.00,64.62 L260.75,65.16 L261.50,65.71 L262.25,66.26 L263.00,66.81 L263.75,67.37 L264.50,67.92 L265.25,68.48 L266.00,69.04 L266.75,69.60 L267.50,70.17 L268.25,70.73 L269.00,71.30 L269.75,71.87 L270.50,72.43 L271.25,73.00 L272.00,73.58 L272.75,74.15 L273.50,74.72 L274.25,75.30 L275.00,75.87 L275.75,76.45 L276.50,77.02 L277.25,77.60 L278.00,78.18 L278.75,78.76 L279.50,79.33 L280.25,79.91 L281.00,80.49 L281.75,81.07 L282.50,81.65 L283.25,82.22 L284.00,82.80 L284.75,83.38 L285.50,83.95 L286.25,84.53 L287.00,85.10 L287.75,85.67 L288.50,86.24 L289.25,86.81 L290.00,87.38 L290.75,87.95 L291.50,88.51 L292.25,89.08 L293.00,89.64 L293.75,90.20 L294.50,90.76 L295.25,91.31 L296.00,91.87 L296.75,92.42 L297.50,92.97 L298.25,93.52 L299.00,94.06 L299.75,94.61 L300.50,95.15 L301.25,95.69 L302.00,96.23 L302.75,96.77 L303.50,97.31 L304.25,97.84 L305.00,98.38 L305.75,98.91 L306.50,99.44 L307.25,99.97 L308.00,100.50 L308.75,101.03 L309.50,101.56 L310.25,102.08 L311.00,102.61 L311.75,103.13 L312.50,103.65 L313.25,104.18 L314.00,104.70 L314.75,105.22 L315.50,105.74 L316.25,106.26 L317.00,106.78 L317.75,107.30 L318.50,107.82 L319.25,108.34 L320.00,108.86 L320.75,109.38 L321.50,109.90 L322.25,110.42 L323.00,110.94 L323.75,111.46 L324.50,111.99 L325.25,112.52 L326.00,113.04 L326.75,113.57 L327.50,114.10 L328.25,114.63 L329.00,115.17 L329.75,115.70 L330.50,116.24 L331.25,116.78 L332.00,117.32 L332.75,117.87 L333.50,118.42 L334.25,118.97 L335.00,119.52 L335.75,120.08 L336.50,120.64 L337.25,121.20 L338.00,121.76 L338.75,122.33 L339.50,122.91 L340.25,123.48 L341.00,124.07 L341.75,124.65 L342.50,125.24 L343.25,125.84 L344.00,126.43 L344.75,127.04 L345.50,127.64 L346.25,128.26 L347.00,128.87 L347.75,129.50 L348.50,130.12 L349.25,130.76 L350.00,131.40" stroke="#ff0000" stroke-width="1.3" stroke-dasharray="6,2.5,1.5,2.5"/>
<path d="M44.00,6.54 L44.75,6.55 L45.50,6.56 L46.25,6.57 L47.00,6.57 L47.75,6.58 L48.50,6.58 L49.25,6.59 L50.00,6.60 L50.75,6.60 L51.50,6.61 L52.25,6.61 L53.00,6.62 L53.75,6.62 L54.50,6.62 L55.25,6.63 L56.00,6.63 L56.75,6.64 L57.50,6.64 L58.25,6.64 L59.00,6.65 L59.75,6.65 L60.50,6.65 L61.25,6.65 L62.00,6.66 L62.75,6.66 L63.50,6.66 L64.25,6.66 L65.00,6.67 L65.75,6.67 L66.50,6.67 L67.25,6.67 L68.00,6.67 L68.75,6.67 L69.50,6.67 L70.25,6.67 L71.00,6.68 L71.75,6.68 L72.50,6.68 L73.25,6.68 L74.00,6.68 L74.75,6.68 L75.50,6.68 L76.25,6.68 L77.00,6.68 L77.75,6.68 L78.50,6.68 L79.25,6.68 L80.00,6.68 L80.75,6.68 L81.50,6.68 L82.25,6.68 L83.00,6.68 L83.75,6.68 L84.50,6.68 L85.25,6.68 L86.00,6.68 L86.75,6.68 L87.50,6.68 L88.25,6.68 L89.00,6.68 L89.75,6.68 L90.50,6.68 L91.25,6.67 L92.00,6.67 L92.75,6.67 L93.50,6.67 L94.25,6.67 L95.00,6.67 L95.75,6.67 L96.50,6.67 L97.25,6.67 L98.00,6.67 L98.75,6.67 L99.50,6.67 L100.25,6.67 L101.00,6.67 L101.75,6.67 L102.50,6.67 L103.25,6.67 L104.00,6.67 L104.75,6.67 L105.50,6.67 L106.25,6.67 L107.00,6.67 L107.75,6.67 L108.50,6.68 L109.25,6.68 L110.00,6.68 L110.75,6.68 L111.50,6.68 L112.25,6.68 L113.00,6.68 L113.75,6.68 L114.50,6.69 L115.25,6.69 L116.00,6.69 L116.75,6.69 L117.50,6.70 L118.25,6.70 L119.00,6.70 L119.75,6.70 L120.50,6.71 L121.25,6.71 L122.00,6.71 L122.75,6.72 L123.50,6.72 L124.25,6.72 L125.00,6.73 L125.75,6.73 L126.50,6.74 L127.25,6.74 L128.00,6.75 L128.75,6.75 L129.50,6.76 L130.25,6.76 L131.00,6.77 L131.75,6.78 L132.50,6.78 L133.25,6.79 L134.00,6.80 L134.75,6.80 L135.50,6.81 L136.25,6.82 L137.00,6.83 L137.75,6.83 L138.50,6.84 L139.25,6.85 L140.00,6.86 L140.75,6.87 L141.50,6.88 L142.25,6.89 L143.00,6.90 L143.75,6.91 L144.50,6.92 L145.25,6.93 L146.00,6.94 L146.75,6.95 L147.50,6.96 L148.25,6.98 L149.00,6.99 L149.75,7.00 L150.50,7.02 L151.25,7.03 L152.00,7.04 L152.75,7.06 L153.50,7.07 L154.25,7.09 L155.00,7.10 L155.75,7.12 L156.50,7.13 L157.25,7.15 L158.00,7.17 L158.75,7.18 L159.50,7.20 L160.25,7.22 L161.00,7.24 L161.75,7.26 L162.50,7.28 L163.25,7.30 L164.00,7.32 L164.75,7.34 L165.50,7.36 L166.25,7.38 L167.00,7.40 L167.75,7.42 L168.50,7.45 L169.25,7.47 L170.00,7.49 L170.75,7.52 L171.50,7.54 L172.25,7.57 L173.00,7.59 L173.75,7.62 L174.50,7.64 L175.25,7.67 L176.00,7.70 L176.75,7.72 L177.50,7.75 L178.25,7.78 L179.00,7.81 L179.75,7.84 L180.50,7.87 L181.25,7.90 L182.00,7.93 L182.75,7.96 L183.50,8.00 L184.25,8.03 L185.00,8.06 L185.75,8.10 L186.50,8.13 L187.25,8.17 L188.00,8.20 L188.75,8.24 L189.50,8.27 L190.25,8.31 L191.00,8.35 L191.75,8.39 L192.50,8.43 L193.25,8.47 L194.00,8.51 L194.75,8.55 L195.50,8.59 L196.25,8.63 L197.00,8.67 L197.75,8.71 L198.50,8.76 L199.25,8.80 L200.00,8.85 L200.75,8.89 L201.50,8.94 L202.25,8.98 L203.00,9.03 L203.75,9.08 L204.50,9.13 L205.25,9.18 L206.00,9.23 L206.75,9.28 L207.50,9.33 L208.25,9.38 L209.00,9.43 L209.75,9.49 L210.50,9.54 L211.25,9.60 L212.00,9.65 L212.75,9.71 L213.50,9.76 L214.25,9.82 L215.00,9.88 L215.75,9.94 L216.50,10.00 L217.25,10.06 L218.00,10.12 L218.75,10.18 L219.50,10.24 L220.25,10.30 L221.00,10.37 L221.75,10.43 L222.50,10.50 L223.25,10.56 L224.00,10.63 L224.75,10.70 L225.50,10.77 L226.25,10.83 L227.00,10.90 L227.75,10.97 L228.50,11.05 L229.25,11.12 L230.00,11.19 L230.75,11.26 L231.50,11.34 L232.25,11.41 L233.00,11.49 L233.75,11.57 L234.50,11.64 L235.25,11.72 L236.00,11.80 L236.75,11.88 L237.50,11.96 L238.25,12.04 L239.00,12.12 L239.75,12.21 L240.50,12.29 L241.25,12.38 L242.00,12.46 L242.75,12.55 L243.50,12.64 L244.25,12.72 L245.00,12.81 L245.75,12.90 L246.50,12.99 L247.25,13.09 L248.00,13.18 L248.75,13.27 L249.50,13.37 L250.25,13.46 L251.00,13.56 L251.75,13.65 L252.50,13.75 L253.25,13.85 L254.00,13.95 L254.75,14.05 L255.50,14.15 L256.25,14.25 L257.00,14.36 L257.75,14.46 L258.50,14.56 L259.25,14.67 L260.00,14.78 L260.75,14.89 L261.50,14.99 L262.25,15.10 L263.00,15.21 L263.75,15.32 L264.50,15.43 L265.25,15.54 L266.00,15.66 L266.75,15.77 L267.50,15.88 L268.25,15.99 L269.00,16.10 L269.75,16.21 L270.50,16.32 L271.25,16.42 L272.00,16.53 L272.75,16.64 L273.50,16.74 L274.25,16.85 L275.00,16.95 L275.75,17.05 L276.50,17.15 L277.25,17.25 L278.00,17.35 L278.75,17.45 L279.50,17.54 L280.25,17.63 L281.00,17.72 L281.75,17.80 L282.50,17.89 L283.25,17.97 L284.00,18.05 L284.75,18.13 L285.50,18.20 L286.25,18.27 L287.00,18.35 L287.75,18.41 L288.50,18.48 L289.25,18.55 L290.00,18.61 L290.75,18.67 L291.50,18.73 L292.25,18.79 L293.00,18.85 L293.75,18.90 L294.50,18.96 L295.25,19.01 L296.00,19.06 L296.75,19.12 L297.50,19.17 L298.25,19.22 L299.00,19.27 L299.75,19.31 L300.50,19.36 L301.25,19.41 L302.00,19.46 L302.75,19.50 L303.50,19.55 L304.25,19.60 L305.00,19.64 L305.75,19.69 L306.50,19.73 L307.25,19.78 L308.00,19.83 L308.75,19.88 L309.50,19.93 L310.25,19.98 L311.00,20.03 L311.75,20.08 L312.50,20.14 L313.25,20.19 L314.00,20.25 L314.75,20.31 L315.50,20.37 L316.25,20.44 L317.00,20.50 L317.75,20.57 L318.50,20.64 L319.25,20.72 L320.00,20.79 L320.75,20.87 L321.50,20.96 L322.25,21.05 L323.00,21.14 L323.75,21.23 L324.50,21.33 L325.25,21.43 L326.00,21.54 L326.75,21.65 L327.50,21.76 L328.25,21.88 L329.00,22.00 L329.75,22.12 L330.50,22.25 L331.25,22.38 L332.00,22.51 L332.75,22.65 L333.50,22.79 L334.25,22.93 L335.00,23.07 L335.75,23.21 L336.50,23.36 L337.25,23.51 L338.00,23.66 L338.75,23.81 L339.50,23.96 L340.25,24.11 L341.00,24.27 L341.75,24.42 L342.50,24.57 L343.25,24.73 L344.00,24.88 L344.75,25.04 L345.50,25.19 L346.25,25.35 L347.00,25.50 L347.75,25.66 L348.50,25.81 L349.25,25.96 L350.00,26.12 L350.75,26.27 L351.50,26.41 L352.25,26.56 L353.00,26.71 L353.75,26.85 L354.50,27.00 L355.25,27.14 L356.00,27.28 L356.75,27.42 L357.50,27.55 L358.25,27.69 L359.00,27.82 L359.75,27.95 L360.50,28.08 L361.25,28.20 L362.00,28.32 L362.75,28.44 L363.50,28.55 L364.25,28.67 L365.00,28.78 L365.75,28.88 L366.50,28.98 L367.25,29.08 L368.00,29.18 L368.75,29.27 L369.50,29.35 L370.25,29.44 L371.00,29.52 L371.75,29.59 L372.50,29.66 L373.25,29.73 L374.00,29.80 L374.75,29.85 L375.50,29.91 L376.25,29.96 L377.00,30.01 L377.75,30.05 L378.50,30.09 L379.25,30.13 L380.00,30.16 L380.75,30.19 L381.50,30.21 L382.25,30.23 L383.00,30.24 L383.75,30.25 L384.50,30.26 L385.25,30.26 L386.00,30.26 L386.75,30.25 L387.50,30.24 L388.25,30.22 L389.00,30.20" stroke="#40e0d0" stroke-width="1.3"/>
<path d="M44.00,6.73 L44.75,6.73 L45.50,6.73 L46.25,6.73 L47.00,6.73 L47.75,6.73 L48.50,6.73 L49.25,6.73 L50.00,6.72 L50.75,6.72 L51.50,6.72 L52.25,6.72 L53.00,6.72 L53.75,6.72 L54.50,6.72 L55.25,6.72 L56.00,6.72 L56.75,6.72 L57.50,6.72 L58.25,6.72 L59.00,6.72 L59.75,6.72 L60.50,6.72 L61.25,6.72 L62.00,6.72 L62.75,6.72 L63.50,6.72 L64.25,6.72 L65.00,6.72 L65.75,6.72 L66.50,6.72 L67.25,6.72 L68.00,6.72 L68.75,6.72 L69.50,6.72 L70.25,6.72 L71.00,6.72 L71.75,6.72 L72.50,6.73 L73.25,6.73 L74.00,6.73 L74.75,6.73 L75.50,6.73 L76.25,6.74 L77.00,6.74 L77.75,6.74 L78.50,6.74 L79.25,6.75 L80.00,6.75 L80.75,6.75 L81.50,6.75 L82.25,6.76 L83.00,6.76 L83.75,6.76 L84.50,6.77 L85.25,6.77 L86.00,6.78 L86.75,6.78 L87.50,6.78 L88.25,6.79 L89.00,6.79 L89.75,6.80 L90.50,6.80 L91.25,6.81 L92.00,6.82 L92.75,6.82 L93.50,6.83 L94.25,6.83 L95.00,6.84 L95.75,6.85 L96.50,6.85 L97.25,6.86 L98.00,6.87 L98.75,6.87 L99.50,6.88 L100.25,6.89 L101.00,6.90 L101.75,6.91 L102.50,6.92 L103.25,6.92 L104.00,6.93 L104.75,6.94 L105.50,6.95 L106.25,6.96 L107.00,6.97 L107.75,6.98 L108.50,6.99 L109.25,7.00 L110.00,7.01 L110.75,7.02 L111.50,7.04 L112.25,7.05 L113.00,7.06 L113.75,7.07 L114.50,7.08 L115.25,7.10 L116.00,7.11 L116.75,7.12 L117.50,7.14 L118.25,7.15 L119.00,7.17 L119.75,7.18 L120.50,7.20 L121.25,7.21 L122.00,7.23 L122.75,7.24 L123.50,7.26 L124.25,7.27 L125.00,7.29 L125.75,7.31 L126.50,7.33 L127.25,7.34 L128.00,7.36 L128.75,7.38 L129.50,7.40 L130.25,7.42 L131.00,7.44 L131.75,7.46 L132.50,7.48 L133.25,7.50 L134.00,7.52 L134.75,7.54 L135.50,7.56 L136.25,7.58 L137.00,7.61 L137.75,7.63 L138.50,7.65 L139.25,7.68 L140.00,7.70 L140.75,7.73 L141.50,7.75 L142.25,7.78 L143.00,7.80 L143.75,7.83 L144.50,7.86 L145.25,7.89 L146.00,7.92 L146.75,7.94 L147.50,7.97 L148.25,8.00 L149.00,8.04 L149.75,8.07 L150.50,8.10 L151.25,8.13 L152.00,8.16 L152.75,8.20 L153.50,8.23 L154.25,8.27 L155.00,8.30 L155.75,8.34 L156.50,8.38 L157.25,8.42 L158.00,8.45 L158.75,8.49 L159.50,8.53 L160.25,8.57 L161.00,8.61 L161.75,8.66 L162.50,8.70 L163.25,8.74 L164.00,8.79 L164.75,8.83 L165.50,8.88 L166.25,8.92 L167.00,8.97 L167.75,9.02 L168.50,9.07 L169.25,9.12 L170.00,9.17 L170.75,9.22 L171.50,9.27 L172.25,9.32 L173.00,9.38 L173.75,9.43 L174.50,9.49 L175.25,9.54 L176.00,9.60 L176.75,9.66 L177.50,9.72 L178.25,9.78 L179.00,9.84 L179.75,9.90 L180.50,9.96 L181.25,10.03 L182.00,10.09 L182.75,10.16 L183.50,10.22 L184.25,10.29 L185.00,10.36 L185.75,10.43 L186.50,10.50 L187.25,10.57 L188.00,10.64 L188.75,10.72 L189.50,10.79 L190.25,10.87 L191.00,10.94 L191.75,11.02 L192.50,11.10 L193.25,11.18 L194.00,11.26 L194.75,11.34 L195.50,11.42 L196.25,11.51 L197.00,11.59 L197.75,11.68 L198.50,11.77 L199.25,11.86 L200.00,11.95 L200.75,12.04 L201.50,12.13 L202.25,12.22 L203.00,12.32 L203.75,12.41 L204.50,12.51 L205.25,12.61 L206.00,12.71 L206.75,12.81 L207.50,12.91 L208.25,13.01 L209.00,13.12 L209.75,13.22 L210.50,13.33 L211.25,13.44 L212.00,13.55 L212.75,13.67 L213.50,13.78 L214.25,13.90 L215.00,14.02 L215.75,14.14 L216.50,14.26 L217.25,14.39 L218.00,14.52 L218.75,14.65 L219.50,14.78 L220.25,14.92 L221.00,15.06 L221.75,15.20 L222.50,15.34 L223.25,15.49 L224.00,15.64 L224.75,15.80 L225.50,15.95 L226.25,16.11 L227.00,16.28 L227.75,16.44 L228.50,16.61 L229.25,16.79 L230.00,16.96 L230.75,17.14 L231.50,17.32 L232.25,17.50 L233.00,17.68 L233.75,17.86 L234.50,18.04 L235.25,18.23 L236.00,18.41 L236.75,18.59 L237.50,18.77 L238.25,18.95 L239.00,19.13 L239.75,19.31 L240.50,19.49 L241.25,19.66 L242.00,19.85 L242.75,20.03 L243.50,20.21 L244.25,20.39 L245.00,20.58 L245.75,20.77 L246.50,20.97 L247.25,21.16 L248.00,21.36 L248.75,21.57 L249.50,21.77 L250.25,21.98 L251.00,22.20 L251.75,22.41 L252.50,22.63 L253.25,22.85 L254.00,23.07 L254.75,23.30 L255.50,23.52 L256.25,23.75 L257.00,23.98 L257.75,24.21 L258.50,24.44 L259.25,24.67 L260.00,24.90 L260.75,25.13 L261.50,25.36 L262.25,25.60 L263.00,25.83 L263.75,26.06 L264.50,26.29 L265.25,26.52 L266.00,26.75 L266.75,26.98 L267.50,27.21 L268.25,27.43 L269.00,27.65 L269.75,27.88 L270.50,28.10 L271.25,28.31 L272.00,28.53 L272.75,28.74 L273.50,28.95 L274.25,29.15 L275.00,29.36 L275.75,29.56 L276.50,29.75 L277.25,29.94 L278.00,30.13 L278.75,30.31 L279.50,30.49 L280.25,30.67 L281.00,30.84 L281.75,31.00 L282.50,31.16 L283.25,31.31 L284.00,31.46 L284.75,31.60 L285.50,31.74 L286.25,31.87 L287.00,31.99 L287.75,32.11 L288.50,32.22 L289.25,32.33 L290.00,32.43 L290.75,32.52 L291.50,32.61 L292.25,32.70 L293.00,32.78 L293.75,32.86 L294.50,32.93 L295.25,33.01 L296.00,33.07 L296.75,33.14 L297.50,33.20 L298.25,33.27 L299.00,33.33 L299.75,33.39 L300.50,33.45 L301.25,33.51 L302.00,33.57 L302.75,33.63 L303.50,33.69 L304.25,33.75 L305.00,33.81 L305.75,33.87 L306.50,33.94 L307.25,34.01 L308.00,34.08 L308.75,34.16 L309.50,34.24 L310.25,34.32 L311.00,34.41 L311.75,34.50 L312.50,34.59 L313.25,34.69 L314.00,34.80 L314.75,34.91 L315.50,35.03 L316.25,35.16 L317.00,35.29 L317.75,35.43 L318.50,35.58 L319.25,35.74 L320.00,35.90 L320.75,36.07 L321.50,36.25 L322.25,36.45 L323.00,36.65 L323.75,36.86 L324.50,37.08 L325.25,37.31 L326.00,37.55 L326.75,37.81 L327.50,38.07 L328.25,38.35 L329.00,38.64 L329.75,38.95 L330.50,39.26 L331.25,39.58 L332.00,39.92 L332.75,40.26 L333.50,40.61 L334.25,40.97 L335.00,41.33 L335.75,41.70 L336.50,42.08 L337.25,42.46 L338.00,42.84 L338.75,43.23 L339.50,43.63 L340.25,44.02 L341.00,44.42 L341.75,44.82 L342.50,45.21 L343.25,45.61 L344.00,46.01 L344.75,46.40 L345.50,46.80 L346.25,47.19 L347.00,47.57 L347.75,47.96 L348.50,48.33 L349.25,48.71 L350.00,49.07 L350.75,49.43 L351.50,49.77 L352.25,50.10 L353.00,50.43 L353.75,50.73 L354.50,51.02 L355.25,51.29 L356.00,51.55 L356.75,51.78 L357.50,51.99 L358.25,52.18 L359.00,52.34 L359.75,52.48 L360.50,52.59 L361.25,52.67 L362.00,52.72 L362.75,52.74 L363.50,52.72 L364.25,52.67 L365.00,52.59 L365.75,52.46 L366.50,52.30 L367.25,52.10 L368.00,51.85" stroke="#ff0000" stroke-width="1.3"/>
<path d="M44.00,6.58 L44.75,6.59 L45.50,6.60 L46.25,6.61 L47.00,6.62 L47.75,6.63 L48.50,6.64 L49.25,6.65 L50.00,6.66 L50.75,6.67 L51.50,6.68 L52.25,6.68 L53.00,6.69 L53.75,6.70 L54.50,6.71 L55.25,6.71 L56.00,6.72 L56.75,6.73 L57.50,6.73 L58.25,6.74 L59.00,6.74 L59.75,6.75 L60.50,6.75 L61.25,6.76 L62.00,6.76 L62.75,6.77 L63.50,6.77 L64.25,6.78 L65.00,6.78 L65.75,6.79 L66.50,6.79 L67.25,6.79 L68.00,6.80 L68.75,6.80 L69.50,6.80 L70.25,6.81 L71.00,6.81 L71.75,6.82 L72.50,6.82 L73.25,6.82 L74.00,6.83 L74.75,6.83 L75.50,6.83 L76.25,6.84 L77.00,6.84 L77.75,6.84 L78.50,6.85 L79.25,6.85 L80.00,6.85 L80.75,6.86 L81.50,6.86 L82.25,6.87 L83.00,6.87 L83.75,6.88 L84.50,6.88 L85.25,6.88 L86.00,6.89 L86.75,6.89 L87.50,6.90 L88.25,6.91 L89.00,6.91 L89.75,6.92 L90.50,6.92 L91.25,6.93 L92.00,6.94 L92.75,6.94 L93.50,6.95 L94.25,6.96 L95.00,6.97 L95.75,6.97 L96.50,6.98 L97.25,6.99 L98.00,7.00 L98.75,7.01 L99.50,7.02 L100.25,7.03 L101.00,7.04 L101.75,7.05 L102.50,7.06 L103.25,7.07 L104.00,7.09 L104.75,7.10 L105.50,7.11 L106.25,7.13 L107.00,7.14 L107.75,7.15 L108.50,7.17 L109.25,7.18 L110.00,7.20 L110.75,7.22 L111.50,7.23 L112.25,7.25 L113.00,7.27 L113.75,7.29 L114.50,7.31 L115.25,7.33 L116.00,7.35 L116.75,7.37 L117.50,7.39 L118.25,7.41 L119.00,7.44 L119.75,7.46 L120.50,7.49 L121.25,7.51 L122.00,7.54 L122.75,7.56 L123.50,7.59 L124.25,7.62 L125.00,7.65 L125.75,7.68 L126.50,7.71 L127.25,7.74 L128.00,7.77 L128.75,7.80 L129.50,7.84 L130.25,7.87 L131.00,7.90 L131.75,7.94 L132.50,7.98 L133.25,8.01 L134.00,8.05 L134.75,8.09 L135.50,8.13 L136.25,8.17 L137.00,8.22 L137.75,8.26 L138.50,8.30 L139.25,8.35 L140.00,8.39 L140.75,8.44 L141.50,8.49 L142.25,8.53 L143.00,8.58 L143.75,8.63 L144.50,8.69 L145.25,8.74 L146.00,8.79 L146.75,8.85 L147.50,8.90 L148.25,8.96 L149.00,9.02 L149.75,9.08 L150.50,9.14 L151.25,9.20 L152.00,9.26 L152.75,9.32 L153.50,9.39 L154.25,9.45 L155.00,9.52 L155.75,9.59 L156.50,9.66 L157.25,9.73 L158.00,9.80 L158.75,9.87 L159.50,9.95 L160.25,10.02 L161.00,10.10 L161.75,10.18 L162.50,10.26 L163.25,10.34 L164.00,10.42 L164.75,10.50 L165.50,10.59 L166.25,10.67 L167.00,10.76 L167.75,10.85 L168.50,10.94 L169.25,11.03 L170.00,11.12 L170.75,11.22 L171.50,11.31 L172.25,11.41 L173.00,11.51 L173.75,11.61 L174.50,11.71 L175.25,11.81 L176.00,11.92 L176.75,12.02 L177.50,12.13 L178.25,12.24 L179.00,12.35 L179.75,12.46 L180.50,12.57 L181.25,12.69 L182.00,12.80 L182.75,12.92 L183.50,13.04 L184.25,13.16 L185.00,13.29 L185.75,13.41 L186.50,13.54 L187.25,13.66 L188.00,13.79 L188.75,13.92 L189.50,14.06 L190.25,14.19 L191.00,14.33 L191.75,14.46 L192.50,14.60 L193.25,14.74 L194.00,14.89 L194.75,15.03 L195.50,15.18 L196.25,15.33 L197.00,15.48 L197.75,15.63 L198.50,15.78 L199.25,15.94 L200.00,16.09 L200.75,16.25 L201.50,16.41 L202.25,16.57 L203.00,16.74 L203.75,16.91 L204.50,17.08 L205.25,17.25 L206.00,17.43 L206.75,17.61 L207.50,17.79 L208.25,17.98 L209.00,18.17 L209.75,18.37 L210.50,18.57 L211.25,18.78 L212.00,19.00 L212.75,19.21 L213.50,19.44 L214.25,19.67 L215.00,19.91 L215.75,20.15 L216.50,20.40 L217.25,20.66 L218.00,20.93 L218.75,21.20 L219.50,21.48 L220.25,21.78 L221.00,22.07 L221.75,22.38 L222.50,22.70 L223.25,23.02 L224.00,23.35 L224.75,23.69 L225.50,24.03 L226.25,24.37 L227.00,24.72 L227.75,25.07 L228.50,25.43 L229.25,25.78 L230.00,26.14 L230.75,26.49 L231.50,26.84 L232.25,27.20 L233.00,27.54 L233.75,27.89 L234.50,28.23 L235.25,28.57 L236.00,28.90 L236.75,29.22 L237.50,29.53 L238.25,29.84 L239.00,30.14 L239.75,30.43 L240.50,30.71 L241.25,30.98 L242.00,31.24 L242.75,31.49 L243.50,31.73 L244.25,31.97 L245.00,32.20 L245.75,32.43 L246.50,32.65 L247.25,32.87 L248.00,33.09 L248.75,33.31 L249.50,33.53 L250.25,33.75 L251.00,33.98 L251.75,34.20 L252.50,34.43 L253.25,34.67 L254.00,34.91 L254.75,35.16 L255.50,35.41 L256.25,35.68 L257.00,35.95 L257.75,36.24 L258.50,36.53 L259.25,36.84 L260.00,37.16 L260.75,37.50 L261.50,37.85 L262.25,38.21 L263.00,38.58 L263.75,38.96 L264.50,39.35 L265.25,39.75 L266.00,40.15 L266.75,40.56 L267.50,40.97 L268.25,41.38 L269.00,41.79 L269.75,42.21 L270.50,42.62 L271.25,43.02 L272.00,43.43 L272.75,43.83 L273.50,44.22 L274.25,44.60 L275.00,44.97 L275.75,45.34 L276.50,45.69 L277.25,46.03 L278.00,46.35 L278.75,46.66 L279.50,46.96 L280.25,47.23 L281.00,47.49 L281.75,47.74 L282.50,47.97 L283.25,48.19 L284.00,48.39 L284.75,48.58 L285.50,48.76 L286.25,48.93 L287.00,49.09 L287.75,49.24 L288.50,49.38 L289.25,49.52 L290.00,49.64 L290.75,49.76 L291.50,49.88 L292.25,49.98 L293.00,50.09 L293.75,50.19 L294.50,50.29 L295.25,50.38 L296.00,50.47 L296.75,50.57 L297.50,50.66 L298.25,50.75 L299.00,50.85 L299.75,50.95 L300.50,51.05 L301.25,51.15 L302.00,51.26 L302.75,51.37 L303.50,51.49 L304.25,51.61 L305.00,51.74 L305.75,51.88 L306.50,52.03 L307.25,52.19 L308.00,52.35 L308.75,52.53 L309.50,52.72 L310.25,52.92 L311.00,53.13 L311.75,53.36 L312.50,53.60 L313.25,53.86 L314.00,54.13 L314.75,54.42 L315.50,54.73 L316.25,55.05 L317.00,55.39 L317.75,55.75 L318.50,56.13 L319.25,56.54 L320.00,56.96 L320.75,57.41 L321.50,57.88 L322.25,58.38 L323.00,58.91 L323.75,59.47 L324.50,60.05 L325.25,60.67 L326.00,61.32 L326.75,62.01 L327.50,62.73 L328.25,63.49 L329.00,64.28 L329.75,65.11 L330.50,65.96 L331.25,66.83 L332.00,67.71 L332.75,68.61 L333.50,69.51 L334.25,70.41 L335.00,71.30 L335.75,72.18 L336.50,73.05 L337.25,73.89 L338.00,74.71 L338.75,75.49 L339.50,76.24 L340.25,76.96 L341.00,77.64 L341.75,78.28 L342.50,78.89 L343.25,79.45 L344.00,79.98 L344.75,80.45 L345.50,80.89 L346.25,81.28 L347.00,81.62 L347.75,81.92 L348.50,82.17 L349.25,82.36 L350.00,82.51 L350.75,82.61 L351.50,82.67 L352.25,82.68 L353.00,82.65 L353.75,82.57 L354.50,82.46 L355.25,82.30 L356.00,82.11 L356.75,81.88 L357.00,81.79" stroke="#ffa500" stroke-width="1.3"/>
<path d="M44.00,6.72 L44.75,6.72 L45.50,6.72 L46.25,6.72 L47.00,6.72 L47.75,6.72 L48.50,6.72 L49.25,6.72 L50.00,6.72 L50.75,6.73 L51.50,6.73 L52.25,6.73 L53.00,6.73 L53.75,6.74 L54.50,6.74 L55.25,6.74 L56.00,6.74 L56.75,6.75 L57.50,6.75 L58.25,6.76 L59.00,6.76 L59.75,6.76 L60.50,6.77 L61.25,6.77 L62.00,6.78 L62.75,6.78 L63.50,6.79 L64.25,6.79 L65.00,6.80 L65.75,6.81 L66.50,6.81 L67.25,6.82 L68.00,6.83 L68.75,6.83 L69.50,6.84 L70.25,6.85 L71.00,6.86 L71.75,6.87 L72.50,6.88 L73.25,6.88 L74.00,6.89 L74.75,6.90 L75.50,6.91 L76.25,6.92 L77.00,6.94 L77.75,6.95 L78.50,6.96 L79.25,6.97 L80.00,6.98 L80.75,7.00 L81.50,7.01 L82.25,7.02 L83.00,7.04 L83.75,7.05 L84.50,7.07 L85.25,7.08 L86.00,7.10 L86.75,7.11 L87.50,7.13 L88.25,7.14 L89.00,7.16 L89.75,7.18 L90.50,7.20 L91.25,7.22 L92.00,7.23 L92.75,7.25 L93.50,7.27 L94.25,7.29 L95.00,7.32 L95.75,7.34 L96.50,7.36 L97.25,7.38 L98.00,7.40 L98.75,7.43 L99.50,7.45 L100.25,7.47 L101.00,7.50 L101.75,7.52 L102.50,7.55 L103.25,7.58 L104.00,7.60 L104.75,7.63 L105.50,7.66 L106.25,7.69 L107.00,7.72 L107.75,7.75 L108.50,7.78 L109.25,7.81 L110.00,7.84 L110.75,7.87 L111.50,7.90 L112.25,7.93 L113.00,7.97 L113.75,8.00 L114.50,8.04 L115.25,8.07 L116.00,8.11 L116.75,8.14 L117.50,8.18 L118.25,8.22 L119.00,8.26 L119.75,8.30 L120.50,8.34 L121.25,8.38 L122.00,8.42 L122.75,8.46 L123.50,8.50 L124.25,8.55 L125.00,8.59 L125.75,8.64 L126.50,8.68 L127.25,8.73 L128.00,8.77 L128.75,8.82 L129.50,8.87 L130.25,8.92 L131.00,8.97 L131.75,9.02 L132.50,9.07 L133.25,9.13 L134.00,9.18 L134.75,9.24 L135.50,9.29 L136.25,9.35 L137.00,9.41 L137.75,9.47 L138.50,9.53 L139.25,9.59 L140.00,9.65 L140.75,9.71 L141.50,9.77 L142.25,9.84 L143.00,9.91 L143.75,9.97 L144.50,10.04 L145.25,10.11 L146.00,10.18 L146.75,10.25 L147.50,10.32 L148.25,10.40 L149.00,10.47 L149.75,10.55 L150.50,10.63 L151.25,10.70 L152.00,10.78 L152.75,10.86 L153.50,10.95 L154.25,11.03 L155.00,11.11 L155.75,11.20 L156.50,11.29 L157.25,11.38 L158.00,11.47 L158.75,11.56 L159.50,11.65 L160.25,11.75 L161.00,11.85 L161.75,11.94 L162.50,12.05 L163.25,12.15 L164.00,12.25 L164.75,12.36 L165.50,12.47 L166.25,12.59 L167.00,12.70 L167.75,12.82 L168.50,12.94 L169.25,13.06 L170.00,13.19 L170.75,13.32 L171.50,13.45 L172.25,13.58 L173.00,13.72 L173.75,13.86 L174.50,14.01 L175.25,14.16 L176.00,14.31 L176.75,14.46 L177.50,14.62 L178.25,14.79 L179.00,14.95 L179.75,15.12 L180.50,15.30 L181.25,15.48 L182.00,15.66 L182.75,15.85 L183.50,16.04 L184.25,16.23 L185.00,16.43 L185.75,16.64 L186.50,16.85 L187.25,17.06 L188.00,17.28 L188.75,17.50 L189.50,17.73 L190.25,17.97 L191.00,18.21 L191.75,18.45 L192.50,18.70 L193.25,18.95 L194.00,19.21 L194.75,19.48 L195.50,19.74 L196.25,20.01 L197.00,20.29 L197.75,20.57 L198.50,20.85 L199.25,21.14 L200.00,21.43 L200.75,21.72 L201.50,22.01 L202.25,22.31 L203.00,22.61 L203.75,22.91 L204.50,23.21 L205.25,23.52 L206.00,23.82 L206.75,24.13 L207.50,24.44 L208.25,24.75 L209.00,25.06 L209.75,25.37 L210.50,25.69 L211.25,26.00 L212.00,26.31 L212.75,26.63 L213.50,26.94 L214.25,27.26 L215.00,27.58 L215.75,27.91 L216.50,28.24 L217.25,28.57 L218.00,28.91 L218.75,29.25 L219.50,29.59 L220.25,29.95 L221.00,30.30 L221.75,30.67 L222.50,31.04 L223.25,31.42 L224.00,31.81 L224.75,32.20 L225.50,32.60 L226.25,33.02 L227.00,33.44 L227.75,33.87 L228.50,34.31 L229.25,34.76 L230.00,35.22 L230.75,35.69 L231.50,36.17 L232.25,36.65 L233.00,37.14 L233.75,37.64 L234.50,38.14 L235.25,38.64 L236.00,39.15 L236.75,39.66 L237.50,40.18 L238.25,40.69 L239.00,41.21 L239.75,41.72 L240.50,42.24 L241.25,42.75 L242.00,43.26 L242.75,43.77 L243.50,44.28 L244.25,44.78 L245.00,45.28 L245.75,45.77 L246.50,46.25 L247.25,46.73 L248.00,47.20 L248.75,47.67 L249.50,48.12 L250.25,48.57 L251.00,49.02 L251.75,49.46 L252.50,49.89 L253.25,50.32 L254.00,50.74 L254.75,51.16 L255.50,51.57 L256.25,51.98 L257.00,52.38 L257.75,52.78 L258.50,53.18 L259.25,53.58 L260.00,53.97 L260.75,54.36 L261.50,54.74 L262.25,55.13 L263.00,55.51 L263.75,55.89 L264.50,56.27 L265.25,56.65 L266.00,57.03 L266.75,57.41 L267.50,57.78 L268.25,58.16 L269.00,58.53 L269.75,58.90 L270.50,59.27 L271.25,59.64 L272.00,60.00 L272.75,60.37 L273.50,60.72 L274.25,61.08 L275.00,61.43 L275.75,61.78 L276.50,62.12 L277.25,62.46 L278.00,62.80 L278.75,63.13 L279.50,63.45 L280.25,63.78 L281.00,64.09 L281.75,64.40 L282.50,64.71 L283.25,65.00 L284.00,65.30 L284.75,65.58 L285.50,65.86 L286.25,66.14 L287.00,66.40 L287.75,66.66 L288.50,66.91 L289.25,67.15 L290.00,67.39 L290.75,67.61 L291.50,67.83 L292.25,68.04 L293.00,68.24 L293.75,68.44 L294.50,68.62 L295.25,68.79 L296.00,68.96 L296.75,69.11 L297.50,69.25 L298.25,69.39 L299.00,69.51 L299.75,69.62 L300.50,69.72 L301.25,69.81 L302.00,69.89 L302.75,69.95 L303.50,70.01 L304.25,70.06 L305.00,70.11 L305.75,70.16 L306.50,70.21 L307.25,70.27 L308.00,70.34 L308.75,70.43 L309.50,70.53 L310.25,70.64 L311.00,70.78 L311.75,70.95 L312.50,71.14 L313.25,71.36 L314.00,71.62 L314.75,71.91 L315.50,72.25 L316.25,72.63 L317.00,73.05 L317.75,73.53 L318.50,74.05 L319.25,74.63 L320.00,75.28 L320.75,75.98 L321.50,76.74 L322.25,77.57 L323.00,78.45 L323.75,79.40 L324.50,80.41 L325.25,81.47 L326.00,82.60 L326.75,83.79 L327.50,85.04 L328.25,86.34 L329.00,87.71 L329.75,89.14 L330.50,90.62 L331.25,92.16 L332.00,93.76 L332.75,95.42 L333.50,97.14 L334.25,98.91 L335.00,100.75 L335.75,102.63 L336.50,104.58 L337.25,106.58 L338.00,108.64" stroke="#0000ff" stroke-width="1.3"/>
<path d="M44.00,6.58 L44.75,6.59 L45.50,6.61 L46.25,6.63 L47.00,6.65 L47.75,6.66 L48.50,6.68 L49.25,6.70 L50.00,6.71 L50.75,6.73 L51.50,6.74 L52.25,6.76 L53.00,6.77 L53.75,6.78 L54.50,6.80 L55.25,6.81 L56.00,6.82 L56.75,6.83 L57.50,6.85 L58.25,6.86 L59.00,6.87 L59.75,6.88 L60.50,6.89 L61.25,6.91 L62.00,6.92 L62.75,6.93 L63.50,6.94 L64.25,6.95 L65.00,6.96 L65.75,6.97 L66.50,6.99 L67.25,7.00 L68.00,7.01 L68.75,7.02 L69.50,7.03 L70.25,7.04 L71.00,7.06 L71.75,7.07 L72.50,7.08 L73.25,7.09 L74.00,7.11 L74.75,7.12 L75.50,7.13 L76.25,7.15 L77.00,7.16 L77.75,7.18 L78.50,7.19 L79.25,7.21 L80.00,7.22 L80.75,7.24 L81.50,7.26 L82.25,7.27 L83.00,7.29 L83.75,7.31 L84.50,7.33 L85.25,7.35 L86.00,7.37 L86.75,7.39 L87.50,7.41 L88.25,7.43 L89.00,7.46 L89.75,7.48 L90.50,7.51 L91.25,7.53 L92.00,7.56 L92.75,7.58 L93.50,7.61 L94.25,7.64 L95.00,7.67 L95.75,7.70 L96.50,7.73 L97.25,7.76 L98.00,7.80 L98.75,7.83 L99.50,7.86 L100.25,7.90 L101.00,7.94 L101.75,7.98 L102.50,8.01 L103.25,8.05 L104.00,8.10 L104.75,8.14 L105.50,8.18 L106.25,8.23 L107.00,8.27 L107.75,8.32 L108.50,8.37 L109.25,8.42 L110.00,8.47 L110.75,8.52 L111.50,8.58 L112.25,8.63 L113.00,8.69 L113.75,8.75 L114.50,8.81 L115.25,8.87 L116.00,8.93 L116.75,8.99 L117.50,9.06 L118.25,9.13 L119.00,9.19 L119.75,9.26 L120.50,9.33 L121.25,9.41 L122.00,9.48 L122.75,9.55 L123.50,9.63 L124.25,9.70 L125.00,9.78 L125.75,9.86 L126.50,9.94 L127.25,10.02 L128.00,10.09 L128.75,10.18 L129.50,10.26 L130.25,10.34 L131.00,10.42 L131.75,10.50 L132.50,10.58 L133.25,10.67 L134.00,10.75 L134.75,10.83 L135.50,10.92 L136.25,11.00 L137.00,11.08 L137.75,11.16 L138.50,11.25 L139.25,11.33 L140.00,11.41 L140.75,11.50 L141.50,11.58 L142.25,11.66 L143.00,11.74 L143.75,11.82 L144.50,11.90 L145.25,11.98 L146.00,12.06 L146.75,12.14 L147.50,12.21 L148.25,12.29 L149.00,12.36 L149.75,12.44 L150.50,12.51 L151.25,12.58 L152.00,12.65 L152.75,12.72 L153.50,12.79 L154.25,12.86 L155.00,12.93 L155.75,13.00 L156.50,13.07 L157.25,13.14 L158.00,13.21 L158.75,13.29 L159.50,13.37 L160.25,13.45 L161.00,13.54 L161.75,13.63 L162.50,13.72 L163.25,13.82 L164.00,13.92 L164.75,14.03 L165.50,14.15 L166.25,14.27 L167.00,14.40 L167.75,14.54 L168.50,14.68 L169.25,14.83 L170.00,15.00 L170.75,15.17 L171.50,15.35 L172.25,15.54 L173.00,15.74 L173.75,15.94 L174.50,16.15 L175.25,16.37 L176.00,16.60 L176.75,16.84 L177.50,17.08 L178.25,17.33 L179.00,17.58 L179.75,17.84 L180.50,18.11 L181.25,18.38 L182.00,18.65 L182.75,18.93 L183.50,19.21 L184.25,19.50 L185.00,19.79 L185.75,20.09 L186.50,20.39 L187.25,20.69 L188.00,20.99 L188.75,21.30 L189.50,21.61 L190.25,21.92 L191.00,22.23 L191.75,22.55 L192.50,22.87 L193.25,23.19 L194.00,23.51 L194.75,23.84 L195.50,24.17 L196.25,24.51 L197.00,24.85 L197.75,25.19 L198.50,25.53 L199.25,25.88 L200.00,26.24 L200.75,26.60 L201.50,26.96 L202.25,27.33 L203.00,27.70 L203.75,28.07 L204.50,28.46 L205.25,28.84 L206.00,29.23 L206.75,29.63 L207.50,30.03 L208.25,30.44 L209.00,30.85 L209.75,31.27 L210.50,31.69 L211.25,32.12 L212.00,32.56 L212.75,33.00 L213.50,33.45 L214.25,33.90 L215.00,34.36 L215.75,34.83 L216.50,35.30 L217.25,35.78 L218.00,36.27 L218.75,36.77 L219.50,37.27 L220.25,37.78 L221.00,38.29 L221.75,38.82 L222.50,39.35 L223.25,39.89 L224.00,40.44 L224.75,41.00 L225.50,41.56 L226.25,42.13 L227.00,42.71 L227.75,43.29 L228.50,43.89 L229.25,44.48 L230.00,45.09 L230.75,45.70 L231.50,46.32 L232.25,46.94 L233.00,47.56 L233.75,48.19 L234.50,48.83 L235.25,49.47 L236.00,50.11 L236.75,50.76 L237.50,51.40 L238.25,52.06 L239.00,52.71 L239.75,53.37 L240.50,54.03 L241.25,54.69 L242.00,55.35 L242.75,56.02 L243.50,56.68 L244.25,57.35 L245.00,58.02 L245.75,58.68 L246.50,59.35 L247.25,60.01 L248.00,60.68 L248.75,61.34 L249.50,62.01 L250.25,62.67 L251.00,63.33 L251.75,63.98 L252.50,64.64 L253.25,65.29 L254.00,65.94 L254.75,66.58 L255.50,67.23 L256.25,67.86 L257.00,68.50 L257.75,69.13 L258.50,69.75 L259.25,70.37 L260.00,70.99 L260.75,71.59 L261.50,72.20 L262.25,72.79 L263.00,73.38 L263.75,73.97 L264.50,74.54 L265.25,75.11 L266.00,75.66 L266.75,76.21 L267.50,76.75 L268.25,77.28 L269.00,77.80 L269.75,78.31 L270.50,78.80 L271.25,79.29 L272.00,79.76 L272.75,80.22 L273.50,80.66 L274.25,81.09 L275.00,81.51 L275.75,81.92 L276.50,82.31 L277.25,82.68 L278.00,83.04 L278.75,83.38 L279.50,83.70 L280.25,84.01 L281.00,84.31 L281.75,84.59 L282.50,84.85 L283.25,85.10 L284.00,85.34 L284.75,85.56 L285.50,85.77 L286.25,85.96 L287.00,86.14 L287.75,86.31 L288.50,86.47 L289.25,86.61 L290.00,86.74 L290.75,86.86 L291.50,86.97 L292.25,87.07 L293.00,87.16 L293.75,87.23 L294.50,87.30 L295.25,87.36 L296.00,87.40 L296.75,87.44 L297.50,87.47 L298.25,87.50 L299.00,87.52 L299.75,87.55 L300.50,87.57 L301.25,87.60 L302.00,87.64 L302.75,87.69 L303.50,87.75 L304.25,87.82 L305.00,87.91 L305.75,88.02 L306.50,88.15 L307.25,88.30 L308.00,88.48 L308.75,88.68 L309.50,88.92 L310.25,89.19 L311.00,89.49 L311.75,89.83 L312.50,90.21 L313.25,90.64 L314.00,91.10 L314.75,91.62 L315.50,92.18 L316.25,92.80 L317.00,93.47 L317.75,94.20 L318.50,94.99 L319.25,95.85 L320.00,96.78 L320.75,97.78 L321.50,98.85 L322.25,100.01 L323.00,101.24 L323.75,102.56 L324.50,103.96 L325.25,105.46 L326.00,107.06 L326.75,108.76 L327.50,110.56 L328.25,112.48 L329.00,114.59 L329.75,117.12 L330.50,120.29 L331.25,124.33 L331.50,125.90" stroke="#008b00" stroke-width="1.3"/>
</g>
<g clip-path="url(#cb)" fill="none" stroke-linejoin="round">
<path d="M44.00,154.10 L389.00,187.00" stroke="#000" stroke-width="1.15" stroke-dasharray="5,3.5" stroke-dashoffset="0"/>
<path d="M44.00,157.30 L389.00,195.30" stroke="#000" stroke-width="1.15" stroke-dasharray="5,3.5" stroke-dashoffset="3"/>
<path d="M44.00,154.70 L389.00,207.10" stroke="#000" stroke-width="1.15" stroke-dasharray="5,3.5" stroke-dashoffset="6"/>
<path d="M44.00,156.80 L389.00,222.00" stroke="#000" stroke-width="1.15" stroke-dasharray="5,3.5" stroke-dashoffset="1.5"/>
<path d="M44.00,132.95 L44.75,132.95 L45.50,132.96 L46.25,132.96 L47.00,132.96 L47.75,132.97 L48.50,132.97 L49.25,132.98 L50.00,132.98 L50.75,132.99 L51.50,132.99 L52.25,133.00 L53.00,133.00 L53.75,133.01 L54.50,133.01 L55.25,133.02 L56.00,133.02 L56.75,133.03 L57.50,133.04 L58.25,133.04 L59.00,133.05 L59.75,133.05 L60.50,133.06 L61.25,133.07 L62.00,133.07 L62.75,133.08 L63.50,133.09 L64.25,133.09 L65.00,133.10 L65.75,133.11 L66.50,133.11 L67.25,133.12 L68.00,133.13 L68.75,133.13 L69.50,133.14 L70.25,133.15 L71.00,133.16 L71.75,133.16 L72.50,133.17 L73.25,133.18 L74.00,133.19 L74.75,133.20 L75.50,133.21 L76.25,133.21 L77.00,133.22 L77.75,133.23 L78.50,133.24 L79.25,133.25 L80.00,133.26 L80.75,133.27 L81.50,133.28 L82.25,133.29 L83.00,133.30 L83.75,133.31 L84.50,133.32 L85.25,133.33 L86.00,133.34 L86.75,133.35 L87.50,133.36 L88.25,133.37 L89.00,133.38 L89.75,133.39 L90.50,133.40 L91.25,133.41 L92.00,133.42 L92.75,133.44 L93.50,133.45 L94.25,133.46 L95.00,133.47 L95.75,133.48 L96.50,133.50 L97.25,133.51 L98.00,133.52 L98.75,133.53 L99.50,133.55 L100.25,133.56 L101.00,133.57 L101.75,133.59 L102.50,133.60 L103.25,133.61 L104.00,133.63 L104.75,133.64 L105.50,133.66 L106.25,133.67 L107.00,133.69 L107.75,133.70 L108.50,133.72 L109.25,133.73 L110.00,133.75 L110.75,133.76 L111.50,133.78 L112.25,133.79 L113.00,133.81 L113.75,133.83 L114.50,133.84 L115.25,133.86 L116.00,133.88 L116.75,133.89 L117.50,133.91 L118.25,133.93 L119.00,133.95 L119.75,133.96 L120.50,133.98 L121.25,134.00 L122.00,134.02 L122.75,134.04 L123.50,134.05 L124.25,134.07 L125.00,134.09 L125.75,134.11 L126.50,134.13 L127.25,134.15 L128.00,134.17 L128.75,134.19 L129.50,134.21 L130.25,134.23 L131.00,134.25 L131.75,134.28 L132.50,134.30 L133.25,134.32 L134.00,134.34 L134.75,134.36 L135.50,134.38 L136.25,134.41 L137.00,134.43 L137.75,134.45 L138.50,134.48 L139.25,134.50 L140.00,134.53 L140.75,134.55 L141.50,134.58 L142.25,134.61 L143.00,134.64 L143.75,134.66 L144.50,134.69 L145.25,134.72 L146.00,134.75 L146.75,134.78 L147.50,134.82 L148.25,134.85 L149.00,134.88 L149.75,134.92 L150.50,134.95 L151.25,134.99 L152.00,135.03 L152.75,135.06 L153.50,135.10 L154.25,135.14 L155.00,135.19 L155.75,135.23 L156.50,135.27 L157.25,135.32 L158.00,135.36 L158.75,135.41 L159.50,135.46 L160.25,135.51 L161.00,135.56 L161.75,135.61 L162.50,135.66 L163.25,135.72 L164.00,135.78 L164.75,135.83 L165.50,135.89 L166.25,135.95 L167.00,136.02 L167.75,136.08 L168.50,136.15 L169.25,136.21 L170.00,136.28 L170.75,136.35 L171.50,136.42 L172.25,136.50 L173.00,136.57 L173.75,136.65 L174.50,136.73 L175.25,136.81 L176.00,136.89 L176.75,136.98 L177.50,137.06 L178.25,137.15 L179.00,137.24 L179.75,137.34 L180.50,137.43 L181.25,137.53 L182.00,137.62 L182.75,137.72 L183.50,137.83 L184.25,137.93 L185.00,138.04 L185.75,138.15 L186.50,138.26 L187.25,138.37 L188.00,138.48 L188.75,138.60 L189.50,138.72 L190.25,138.84 L191.00,138.97 L191.75,139.09 L192.50,139.22 L193.25,139.35 L194.00,139.48 L194.75,139.62 L195.50,139.76 L196.25,139.90 L197.00,140.04 L197.75,140.18 L198.50,140.33 L199.25,140.48 L200.00,140.63 L200.75,140.79 L201.50,140.95 L202.25,141.11 L203.00,141.27 L203.75,141.43 L204.50,141.60 L205.25,141.77 L206.00,141.95 L206.75,142.12 L207.50,142.30 L208.25,142.48 L209.00,142.67 L209.75,142.85 L210.50,143.04 L211.25,143.23 L212.00,143.43 L212.75,143.63 L213.50,143.83 L214.25,144.03 L215.00,144.24 L215.75,144.45 L216.50,144.66 L217.25,144.88 L218.00,145.09 L218.75,145.32 L219.50,145.54 L220.25,145.77 L221.00,146.00 L221.75,146.23 L222.50,146.47 L223.25,146.70 L224.00,146.95 L224.75,147.19 L225.50,147.44 L226.25,147.69 L227.00,147.94 L227.75,148.19 L228.50,148.45 L229.25,148.71 L230.00,148.97 L230.75,149.24 L231.50,149.50 L232.25,149.77 L233.00,150.05 L233.75,150.32 L234.50,150.60 L235.25,150.88 L236.00,151.16 L236.75,151.44 L237.50,151.73 L238.25,152.02 L239.00,152.31 L239.75,152.60 L240.50,152.90 L241.25,153.19 L242.00,153.49 L242.75,153.79 L243.50,154.10 L244.25,154.40 L245.00,154.71 L245.75,155.02 L246.50,155.33 L247.25,155.64 L248.00,155.96 L248.75,156.28 L249.50,156.59 L250.25,156.91 L251.00,157.24 L251.75,157.56 L252.50,157.89 L253.25,158.21 L254.00,158.54 L254.75,158.87 L255.50,159.21 L256.25,159.54 L257.00,159.88 L257.75,160.21 L258.50,160.55 L259.25,160.89 L260.00,161.23 L260.75,161.58 L261.50,161.92 L262.25,162.27 L263.00,162.61 L263.75,162.96 L264.50,163.31 L265.25,163.66 L266.00,164.02 L266.75,164.37 L267.50,164.72 L268.25,165.08 L269.00,165.44 L269.75,165.80 L270.50,166.16 L271.25,166.52 L272.00,166.88 L272.75,167.25 L273.50,167.61 L274.25,167.98 L275.00,168.34 L275.75,168.71 L276.50,169.08 L277.25,169.45 L278.00,169.82 L278.75,170.20 L279.50,170.57 L280.25,170.95 L281.00,171.32 L281.75,171.70 L282.50,172.08 L283.25,172.45 L284.00,172.83 L284.75,173.22 L285.50,173.60 L286.25,173.98 L287.00,174.36 L287.75,174.75 L288.50,175.13 L289.25,175.52 L290.00,175.91 L290.75,176.29 L291.50,176.68 L292.25,177.07 L293.00,177.46 L293.75,177.86 L294.50,178.25 L295.25,178.64 L296.00,179.03 L296.75,179.43 L297.50,179.82 L298.25,180.22 L299.00,180.61 L299.75,181.01 L300.50,181.41 L301.25,181.81 L302.00,182.21 L302.75,182.61 L303.50,183.01 L304.25,183.41 L305.00,183.81 L305.75,184.21 L306.50,184.61 L307.25,185.02 L308.00,185.42 L308.75,185.82 L309.50,186.23 L310.25,186.63 L311.00,187.04 L311.75,187.44 L312.50,187.85 L313.25,188.25 L314.00,188.66 L314.75,189.07 L315.50,189.48 L316.25,189.88 L317.00,190.29 L317.75,190.70 L318.50,191.11 L319.25,191.52 L320.00,191.92 L320.75,192.33 L321.50,192.74 L322.25,193.15 L323.00,193.56 L323.75,193.97 L324.50,194.38 L325.25,194.79 L326.00,195.20 L326.75,195.61 L327.50,196.02 L328.25,196.43 L329.00,196.84 L329.75,197.25 L330.50,197.66 L331.25,198.07 L332.00,198.48 L332.75,198.89 L333.50,199.30 L334.25,199.70 L335.00,200.11 L335.75,200.52 L336.50,200.93 L337.25,201.34 L338.00,201.75 L338.75,202.16 L339.50,202.56 L340.25,202.97 L341.00,203.38 L341.75,203.78 L342.50,204.19 L343.25,204.60 L344.00,205.00 L344.75,205.41 L345.50,205.81 L346.25,206.22 L347.00,206.62 L347.75,207.02 L348.50,207.43 L349.25,207.83 L350.00,208.23 L350.75,208.63 L351.50,209.03 L352.25,209.44 L353.00,209.84 L353.75,210.24 L354.50,210.64 L355.25,211.04 L356.00,211.44 L356.75,211.83 L357.50,212.23 L358.25,212.63 L359.00,213.03 L359.75,213.43 L360.50,213.82 L361.25,214.22 L362.00,214.62 L362.75,215.01 L363.50,215.41 L364.25,215.80 L365.00,216.20 L365.75,216.59 L366.50,216.99 L367.25,217.38 L368.00,217.78 L368.75,218.17 L369.50,218.56 L370.25,218.96 L371.00,219.35 L371.75,219.74 L372.50,220.14 L373.25,220.53 L374.00,220.92 L374.75,221.31 L375.50,221.71 L376.25,222.10 L377.00,222.49 L377.75,222.88 L378.50,223.27 L379.25,223.66 L380.00,224.05 L380.75,224.45 L381.50,224.84 L382.25,225.23 L383.00,225.62 L383.75,226.01 L384.50,226.40 L385.25,226.79 L386.00,227.18 L386.75,227.57 L387.50,227.96 L388.25,228.35 L389.00,228.74" stroke="#ff0000" stroke-width="1.3" stroke-dasharray="6,2.5,1.5,2.5"/>
<path d="M44.00,133.18 L44.75,133.18 L45.50,133.19 L46.25,133.19 L47.00,133.19 L47.75,133.19 L48.50,133.20 L49.25,133.20 L50.00,133.20 L50.75,133.21 L51.50,133.21 L52.25,133.21 L53.00,133.22 L53.75,133.22 L54.50,133.22 L55.25,133.23 L56.00,133.23 L56.75,133.24 L57.50,133.24 L58.25,133.25 L59.00,133.25 L59.75,133.25 L60.50,133.26 L61.25,133.26 L62.00,133.27 L62.75,133.28 L63.50,133.28 L64.25,133.29 L65.00,133.29 L65.75,133.30 L66.50,133.30 L67.25,133.31 L68.00,133.32 L68.75,133.32 L69.50,133.33 L70.25,133.34 L71.00,133.34 L71.75,133.35 L72.50,133.36 L73.25,133.36 L74.00,133.37 L74.75,133.38 L75.50,133.39 L76.25,133.39 L77.00,133.40 L77.75,133.41 L78.50,133.42 L79.25,133.43 L80.00,133.44 L80.75,133.44 L81.50,133.45 L82.25,133.46 L83.00,133.47 L83.75,133.48 L84.50,133.49 L85.25,133.50 L86.00,133.51 L86.75,133.52 L87.50,133.53 L88.25,133.54 L89.00,133.55 L89.75,133.56 L90.50,133.57 L91.25,133.59 L92.00,133.60 L92.75,133.61 L93.50,133.62 L94.25,133.63 L95.00,133.65 L95.75,133.66 L96.50,133.67 L97.25,133.68 L98.00,133.70 L98.75,133.71 L99.50,133.72 L100.25,133.74 L101.00,133.75 L101.75,133.76 L102.50,133.78 L103.25,133.79 L104.00,133.81 L104.75,133.82 L105.50,133.84 L106.25,133.85 L107.00,133.87 L107.75,133.88 L108.50,133.90 L109.25,133.91 L110.00,133.93 L110.75,133.95 L111.50,133.96 L112.25,133.98 L113.00,134.00 L113.75,134.01 L114.50,134.03 L115.25,134.05 L116.00,134.07 L116.75,134.08 L117.50,134.10 L118.25,134.12 L119.00,134.14 L119.75,134.16 L120.50,134.18 L121.25,134.20 L122.00,134.22 L122.75,134.24 L123.50,134.26 L124.25,134.28 L125.00,134.30 L125.75,134.32 L126.50,134.34 L127.25,134.36 L128.00,134.38 L128.75,134.41 L129.50,134.43 L130.25,134.45 L131.00,134.47 L131.75,134.50 L132.50,134.52 L133.25,134.54 L134.00,134.57 L134.75,134.59 L135.50,134.61 L136.25,134.64 L137.00,134.66 L137.75,134.69 L138.50,134.72 L139.25,134.74 L140.00,134.77 L140.75,134.80 L141.50,134.83 L142.25,134.85 L143.00,134.88 L143.75,134.91 L144.50,134.94 L145.25,134.98 L146.00,135.01 L146.75,135.04 L147.50,135.07 L148.25,135.11 L149.00,135.14 L149.75,135.18 L150.50,135.22 L151.25,135.26 L152.00,135.29 L152.75,135.33 L153.50,135.38 L154.25,135.42 L155.00,135.46 L155.75,135.50 L156.50,135.55 L157.25,135.59 L158.00,135.64 L158.75,135.69 L159.50,135.74 L160.25,135.79 L161.00,135.84 L161.75,135.89 L162.50,135.95 L163.25,136.00 L164.00,136.06 L164.75,136.12 L165.50,136.18 L166.25,136.24 L167.00,136.30 L167.75,136.37 L168.50,136.43 L169.25,136.50 L170.00,136.57 L170.75,136.64 L171.50,136.71 L172.25,136.78 L173.00,136.86 L173.75,136.93 L174.50,137.01 L175.25,137.09 L176.00,137.17 L176.75,137.26 L177.50,137.34 L178.25,137.43 L179.00,137.52 L179.75,137.61 L180.50,137.70 L181.25,137.79 L182.00,137.89 L182.75,137.99 L183.50,138.09 L184.25,138.19 L185.00,138.30 L185.75,138.40 L186.50,138.51 L187.25,138.62 L188.00,138.73 L188.75,138.85 L189.50,138.96 L190.25,139.08 L191.00,139.20 L191.75,139.33 L192.50,139.45 L193.25,139.58 L194.00,139.71 L194.75,139.84 L195.50,139.98 L196.25,140.12 L197.00,140.26 L197.75,140.40 L198.50,140.54 L199.25,140.69 L200.00,140.84 L200.75,140.99 L201.50,141.15 L202.25,141.31 L203.00,141.47 L203.75,141.63 L204.50,141.79 L205.25,141.96 L206.00,142.13 L206.75,142.31 L207.50,142.48 L208.25,142.66 L209.00,142.84 L209.75,143.03 L210.50,143.22 L211.25,143.41 L212.00,143.60 L212.75,143.80 L213.50,144.00 L214.25,144.20 L215.00,144.41 L215.75,144.61 L216.50,144.83 L217.25,145.04 L218.00,145.26 L218.75,145.48 L219.50,145.70 L220.25,145.93 L221.00,146.16 L221.75,146.39 L222.50,146.63 L223.25,146.87 L224.00,147.11 L224.75,147.36 L225.50,147.61 L226.25,147.86 L227.00,148.11 L227.75,148.37 L228.50,148.63 L229.25,148.89 L230.00,149.16 L230.75,149.43 L231.50,149.70 L232.25,149.98 L233.00,150.25 L233.75,150.53 L234.50,150.82 L235.25,151.10 L236.00,151.39 L236.75,151.68 L237.50,151.98 L238.25,152.28 L239.00,152.58 L239.75,152.88 L240.50,153.18 L241.25,153.49 L242.00,153.80 L242.75,154.12 L243.50,154.43 L244.25,154.75 L245.00,155.07 L245.75,155.39 L246.50,155.72 L247.25,156.05 L248.00,156.38 L248.75,156.71 L249.50,157.05 L250.25,157.39 L251.00,157.73 L251.75,158.07 L252.50,158.42 L253.25,158.77 L254.00,159.12 L254.75,159.47 L255.50,159.83 L256.25,160.18 L257.00,160.54 L257.75,160.91 L258.50,161.27 L259.25,161.64 L260.00,162.01 L260.75,162.38 L261.50,162.75 L262.25,163.13 L263.00,163.50 L263.75,163.89 L264.50,164.27 L265.25,164.66 L266.00,165.05 L266.75,165.44 L267.50,165.84 L268.25,166.24 L269.00,166.65 L269.75,167.06 L270.50,167.48 L271.25,167.91 L272.00,168.34 L272.75,168.78 L273.50,169.22 L274.25,169.67 L275.00,170.13 L275.75,170.60 L276.50,171.07 L277.25,171.55 L278.00,172.04 L278.75,172.54 L279.50,173.05 L280.25,173.57 L281.00,174.10 L281.75,174.64 L282.50,175.19 L283.25,175.75 L284.00,176.33 L284.75,176.91 L285.50,177.51 L286.25,178.11 L287.00,178.72 L287.75,179.34 L288.50,179.97 L289.25,180.60 L290.00,181.23 L290.75,181.87 L291.50,182.51 L292.25,183.15 L293.00,183.79 L293.75,184.43 L294.50,185.07 L295.25,185.71 L296.00,186.34 L296.75,186.96 L297.50,187.59 L298.25,188.21 L299.00,188.82 L299.75,189.43 L300.50,190.04 L301.25,190.64 L302.00,191.24 L302.75,191.83 L303.50,192.42 L304.25,193.01 L305.00,193.59 L305.75,194.17 L306.50,194.74 L307.25,195.31 L308.00,195.88 L308.75,196.44 L309.50,197.00 L310.25,197.56 L311.00,198.11 L311.75,198.67 L312.50,199.21 L313.25,199.76 L314.00,200.30 L314.75,200.84 L315.50,201.38 L316.25,201.92 L317.00,202.45 L317.75,202.99 L318.50,203.52 L319.25,204.05 L320.00,204.57 L320.75,205.10 L321.50,205.63 L322.25,206.15 L323.00,206.68 L323.75,207.20 L324.50,207.73 L325.25,208.25 L326.00,208.78 L326.75,209.30 L327.50,209.83 L328.25,210.35 L329.00,210.88 L329.75,211.40 L330.50,211.93 L331.25,212.46 L332.00,212.98 L332.75,213.51 L333.50,214.05 L334.25,214.58 L335.00,215.11 L335.75,215.65 L336.50,216.19 L337.25,216.73 L338.00,217.27 L338.75,217.82 L339.50,218.37 L340.25,218.92 L341.00,219.47 L341.75,220.03 L342.50,220.59 L343.25,221.16 L344.00,221.72 L344.75,222.29 L345.50,222.87 L346.25,223.45 L347.00,224.03 L347.75,224.62 L348.50,225.21 L349.25,225.81 L350.00,226.41 L350.75,227.01 L351.50,227.62 L352.25,228.24 L353.00,228.86 L353.75,229.48 L354.50,230.11 L355.25,230.74 L356.00,231.37 L356.75,232.01 L357.50,232.66 L358.25,233.30 L359.00,233.96 L359.75,234.61 L360.50,235.27 L361.25,235.93 L362.00,236.60 L362.75,237.27 L363.50,237.94 L364.25,238.62 L365.00,239.29 L365.75,239.98 L366.50,240.66 L367.25,241.35 L368.00,242.04 L368.75,242.74 L369.50,243.44 L370.25,244.14 L371.00,244.84 L371.75,245.54 L372.50,246.25 L373.25,246.96 L374.00,247.68 L374.75,248.39 L375.50,249.11 L376.25,249.83 L377.00,250.55 L377.75,251.27 L378.50,252.00 L379.25,252.73 L380.00,253.46 L380.75,254.19 L381.50,254.92 L382.25,255.66 L383.00,256.40 L383.75,257.13 L384.50,257.87 L385.25,258.62 L386.00,259.36 L386.75,260.10 L387.50,260.85 L388.25,261.59 L389.00,262.34 L389.75,263.09 L390.50,263.84 L391.25,264.59 L392.00,265.34" stroke="#ff0000" stroke-width="1.3" stroke-dasharray="6,2.5,1.5,2.5"/>
<path d="M44.00,132.97 L44.75,133.01 L45.50,133.04 L46.25,133.07 L47.00,133.11 L47.75,133.14 L48.50,133.17 L49.25,133.20 L50.00,133.22 L50.75,133.25 L51.50,133.28 L52.25,133.30 L53.00,133.33 L53.75,133.35 L54.50,133.38 L55.25,133.40 L56.00,133.42 L56.75,133.44 L57.50,133.47 L58.25,133.49 L59.00,133.51 L59.75,133.52 L60.50,133.54 L61.25,133.56 L62.00,133.58 L62.75,133.59 L63.50,133.61 L64.25,133.63 L65.00,133.64 L65.75,133.65 L66.50,133.67 L67.25,133.68 L68.00,133.69 L68.75,133.71 L69.50,133.72 L70.25,133.73 L71.00,133.74 L71.75,133.75 L72.50,133.76 L73.25,133.77 L74.00,133.78 L74.75,133.79 L75.50,133.80 L76.25,133.81 L77.00,133.81 L77.75,133.82 L78.50,133.83 L79.25,133.84 L80.00,133.84 L80.75,133.85 L81.50,133.86 L82.25,133.86 L83.00,133.87 L83.75,133.88 L84.50,133.88 L85.25,133.89 L86.00,133.89 L86.75,133.90 L87.50,133.90 L88.25,133.91 L89.00,133.91 L89.75,133.92 L90.50,133.93 L91.25,133.93 L92.00,133.94 L92.75,133.94 L93.50,133.95 L94.25,133.95 L95.00,133.96 L95.75,133.96 L96.50,133.97 L97.25,133.97 L98.00,133.98 L98.75,133.98 L99.50,133.99 L100.25,134.00 L101.00,134.00 L101.75,134.01 L102.50,134.01 L103.25,134.02 L104.00,134.03 L104.75,134.03 L105.50,134.04 L106.25,134.05 L107.00,134.06 L107.75,134.07 L108.50,134.07 L109.25,134.08 L110.00,134.09 L110.75,134.10 L111.50,134.11 L112.25,134.12 L113.00,134.13 L113.75,134.15 L114.50,134.16 L115.25,134.17 L116.00,134.18 L116.75,134.19 L117.50,134.21 L118.25,134.22 L119.00,134.24 L119.75,134.25 L120.50,134.27 L121.25,134.28 L122.00,134.30 L122.75,134.32 L123.50,134.34 L124.25,134.36 L125.00,134.37 L125.75,134.39 L126.50,134.42 L127.25,134.44 L128.00,134.46 L128.75,134.48 L129.50,134.50 L130.25,134.53 L131.00,134.55 L131.75,134.58 L132.50,134.61 L133.25,134.63 L134.00,134.66 L134.75,134.69 L135.50,134.72 L136.25,134.75 L137.00,134.78 L137.75,134.82 L138.50,134.85 L139.25,134.88 L140.00,134.92 L140.75,134.95 L141.50,134.99 L142.25,135.03 L143.00,135.07 L143.75,135.11 L144.50,135.15 L145.25,135.19 L146.00,135.24 L146.75,135.28 L147.50,135.33 L148.25,135.37 L149.00,135.42 L149.75,135.47 L150.50,135.52 L151.25,135.57 L152.00,135.62 L152.75,135.68 L153.50,135.73 L154.25,135.79 L155.00,135.84 L155.75,135.90 L156.50,135.96 L157.25,136.02 L158.00,136.08 L158.75,136.15 L159.50,136.21 L160.25,136.28 L161.00,136.35 L161.75,136.42 L162.50,136.49 L163.25,136.56 L164.00,136.63 L164.75,136.70 L165.50,136.78 L166.25,136.86 L167.00,136.94 L167.75,137.02 L168.50,137.10 L169.25,137.18 L170.00,137.27 L170.75,137.35 L171.50,137.44 L172.25,137.53 L173.00,137.62 L173.75,137.72 L174.50,137.81 L175.25,137.91 L176.00,138.00 L176.75,138.10 L177.50,138.20 L178.25,138.31 L179.00,138.41 L179.75,138.52 L180.50,138.63 L181.25,138.74 L182.00,138.85 L182.75,138.96 L183.50,139.07 L184.25,139.19 L185.00,139.31 L185.75,139.43 L186.50,139.55 L187.25,139.68 L188.00,139.80 L188.75,139.93 L189.50,140.06 L190.25,140.19 L191.00,140.33 L191.75,140.46 L192.50,140.60 L193.25,140.74 L194.00,140.88 L194.75,141.03 L195.50,141.17 L196.25,141.32 L197.00,141.47 L197.75,141.62 L198.50,141.78 L199.25,141.93 L200.00,142.09 L200.75,142.25 L201.50,142.41 L202.25,142.58 L203.00,142.75 L203.75,142.92 L204.50,143.09 L205.25,143.27 L206.00,143.44 L206.75,143.63 L207.50,143.81 L208.25,144.00 L209.00,144.19 L209.75,144.39 L210.50,144.59 L211.25,144.80 L212.00,145.01 L212.75,145.22 L213.50,145.44 L214.25,145.66 L215.00,145.89 L215.75,146.12 L216.50,146.35 L217.25,146.60 L218.00,146.84 L218.75,147.10 L219.50,147.35 L220.25,147.62 L221.00,147.89 L221.75,148.16 L222.50,148.44 L223.25,148.73 L224.00,149.02 L224.75,149.31 L225.50,149.61 L226.25,149.91 L227.00,150.22 L227.75,150.53 L228.50,150.84 L229.25,151.15 L230.00,151.47 L230.75,151.79 L231.50,152.11 L232.25,152.44 L233.00,152.77 L233.75,153.09 L234.50,153.42 L235.25,153.75 L236.00,154.08 L236.75,154.41 L237.50,154.74 L238.25,155.07 L239.00,155.40 L239.75,155.73 L240.50,156.06 L241.25,156.39 L242.00,156.72 L242.75,157.04 L243.50,157.37 L244.25,157.70 L245.00,158.02 L245.75,158.35 L246.50,158.68 L247.25,159.00 L248.00,159.33 L248.75,159.66 L249.50,159.99 L250.25,160.31 L251.00,160.64 L251.75,160.97 L252.50,161.30 L253.25,161.63 L254.00,161.96 L254.75,162.29 L255.50,162.62 L256.25,162.96 L257.00,163.29 L257.75,163.62 L258.50,163.96 L259.25,164.30 L260.00,164.64 L260.75,164.98 L261.50,165.32 L262.25,165.66 L263.00,166.01 L263.75,166.36 L264.50,166.72 L265.25,167.08 L266.00,167.44 L266.75,167.81 L267.50,168.19 L268.25,168.57 L269.00,168.95 L269.75,169.35 L270.50,169.75 L271.25,170.16 L272.00,170.58 L272.75,171.00 L273.50,171.44 L274.25,171.88 L275.00,172.33 L275.75,172.80 L276.50,173.27 L277.25,173.76 L278.00,174.25 L278.75,174.76 L279.50,175.28 L280.25,175.81 L281.00,176.35 L281.75,176.91 L282.50,177.47 L283.25,178.05 L284.00,178.64 L284.75,179.23 L285.50,179.84 L286.25,180.46 L287.00,181.09 L287.75,181.72 L288.50,182.37 L289.25,183.03 L290.00,183.70 L290.75,184.37 L291.50,185.06 L292.25,185.75 L293.00,186.45 L293.75,187.17 L294.50,187.89 L295.25,188.62 L296.00,189.35 L296.75,190.10 L297.50,190.85 L298.25,191.61 L299.00,192.38 L299.75,193.16 L300.50,193.94 L301.25,194.73 L302.00,195.53 L302.75,196.33 L303.50,197.14 L304.25,197.96 L305.00,198.78 L305.75,199.61 L306.50,200.45 L307.25,201.29 L308.00,202.14 L308.75,202.99 L309.50,203.85 L310.25,204.71 L311.00,205.58 L311.75,206.46 L312.50,207.33 L313.25,208.22 L314.00,209.11 L314.75,210.00 L315.50,210.89 L316.25,211.79 L317.00,212.70 L317.75,213.61 L318.50,214.52 L319.25,215.43 L320.00,216.35 L320.75,217.27 L321.50,218.20 L322.25,219.12 L323.00,220.06 L323.75,220.99 L324.50,221.92 L325.25,222.86 L326.00,223.80 L326.75,224.75 L327.50,225.69 L328.25,226.64 L329.00,227.59 L329.75,228.54 L330.50,229.49 L331.25,230.45 L332.00,231.40 L332.75,232.36 L333.50,233.32 L334.25,234.28 L335.00,235.24 L335.75,236.20 L336.50,237.17 L337.25,238.13 L338.00,239.09 L338.75,240.06 L339.50,241.02 L340.25,241.99 L341.00,242.95 L341.75,243.92 L342.50,244.88 L343.25,245.85 L344.00,246.81 L344.75,247.77 L345.50,248.74 L346.25,249.70 L347.00,250.66 L347.75,251.62 L348.50,252.58 L349.25,253.54 L350.00,254.50 L350.75,255.45 L351.50,256.41 L352.25,257.36 L353.00,258.31 L353.75,259.26 L354.50,260.20 L355.00,260.83" stroke="#ff0000" stroke-width="1.3" stroke-dasharray="6,2.5,1.5,2.5"/>
<path d="M44.00,133.27 L44.75,133.30 L45.50,133.33 L46.25,133.36 L47.00,133.38 L47.75,133.41 L48.50,133.43 L49.25,133.46 L50.00,133.48 L50.75,133.50 L51.50,133.52 L52.25,133.54 L53.00,133.57 L53.75,133.59 L54.50,133.60 L55.25,133.62 L56.00,133.64 L56.75,133.66 L57.50,133.68 L58.25,133.69 L59.00,133.71 L59.75,133.72 L60.50,133.74 L61.25,133.75 L62.00,133.77 L62.75,133.78 L63.50,133.79 L64.25,133.81 L65.00,133.82 L65.75,133.83 L66.50,133.84 L67.25,133.85 L68.00,133.86 L68.75,133.87 L69.50,133.88 L70.25,133.89 L71.00,133.90 L71.75,133.91 L72.50,133.92 L73.25,133.93 L74.00,133.94 L74.75,133.94 L75.50,133.95 L76.25,133.96 L77.00,133.97 L77.75,133.97 L78.50,133.98 L79.25,133.99 L80.00,133.99 L80.75,134.00 L81.50,134.00 L82.25,134.01 L83.00,134.02 L83.75,134.02 L84.50,134.03 L85.25,134.03 L86.00,134.04 L86.75,134.05 L87.50,134.05 L88.25,134.06 L89.00,134.06 L89.75,134.07 L90.50,134.07 L91.25,134.08 L92.00,134.08 L92.75,134.09 L93.50,134.10 L94.25,134.10 L95.00,134.11 L95.75,134.11 L96.50,134.12 L97.25,134.13 L98.00,134.13 L98.75,134.14 L99.50,134.15 L100.25,134.16 L101.00,134.16 L101.75,134.17 L102.50,134.18 L103.25,134.19 L104.00,134.19 L104.75,134.20 L105.50,134.21 L106.25,134.22 L107.00,134.23 L107.75,134.24 L108.50,134.25 L109.25,134.26 L110.00,134.27 L110.75,134.28 L111.50,134.30 L112.25,134.31 L113.00,134.32 L113.75,134.33 L114.50,134.35 L115.25,134.36 L116.00,134.38 L116.75,134.39 L117.50,134.41 L118.25,134.42 L119.00,134.44 L119.75,134.46 L120.50,134.47 L121.25,134.49 L122.00,134.51 L122.75,134.53 L123.50,134.55 L124.25,134.57 L125.00,134.59 L125.75,134.61 L126.50,134.64 L127.25,134.66 L128.00,134.68 L128.75,134.71 L129.50,134.74 L130.25,134.76 L131.00,134.79 L131.75,134.82 L132.50,134.84 L133.25,134.87 L134.00,134.90 L134.75,134.93 L135.50,134.97 L136.25,135.00 L137.00,135.03 L137.75,135.07 L138.50,135.10 L139.25,135.14 L140.00,135.17 L140.75,135.21 L141.50,135.25 L142.25,135.29 L143.00,135.33 L143.75,135.37 L144.50,135.42 L145.25,135.46 L146.00,135.50 L146.75,135.55 L147.50,135.60 L148.25,135.65 L149.00,135.69 L149.75,135.74 L150.50,135.80 L151.25,135.85 L152.00,135.90 L152.75,135.95 L153.50,136.01 L154.25,136.07 L155.00,136.13 L155.75,136.18 L156.50,136.24 L157.25,136.31 L158.00,136.37 L158.75,136.43 L159.50,136.50 L160.25,136.56 L161.00,136.63 L161.75,136.70 L162.50,136.77 L163.25,136.84 L164.00,136.92 L164.75,136.99 L165.50,137.07 L166.25,137.14 L167.00,137.22 L167.75,137.30 L168.50,137.38 L169.25,137.47 L170.00,137.55 L170.75,137.64 L171.50,137.72 L172.25,137.81 L173.00,137.90 L173.75,137.99 L174.50,138.09 L175.25,138.18 L176.00,138.28 L176.75,138.38 L177.50,138.48 L178.25,138.58 L179.00,138.68 L179.75,138.78 L180.50,138.89 L181.25,139.00 L182.00,139.11 L182.75,139.22 L183.50,139.33 L184.25,139.44 L185.00,139.56 L185.75,139.68 L186.50,139.80 L187.25,139.92 L188.00,140.04 L188.75,140.17 L189.50,140.29 L190.25,140.42 L191.00,140.55 L191.75,140.69 L192.50,140.82 L193.25,140.96 L194.00,141.10 L194.75,141.24 L195.50,141.39 L196.25,141.54 L197.00,141.69 L197.75,141.84 L198.50,142.00 L199.25,142.16 L200.00,142.32 L200.75,142.48 L201.50,142.65 L202.25,142.82 L203.00,143.00 L203.75,143.17 L204.50,143.35 L205.25,143.54 L206.00,143.72 L206.75,143.91 L207.50,144.11 L208.25,144.30 L209.00,144.50 L209.75,144.71 L210.50,144.92 L211.25,145.13 L212.00,145.34 L212.75,145.56 L213.50,145.79 L214.25,146.02 L215.00,146.25 L215.75,146.48 L216.50,146.72 L217.25,146.97 L218.00,147.22 L218.75,147.47 L219.50,147.73 L220.25,147.99 L221.00,148.25 L221.75,148.53 L222.50,148.80 L223.25,149.08 L224.00,149.36 L224.75,149.65 L225.50,149.94 L226.25,150.24 L227.00,150.54 L227.75,150.84 L228.50,151.15 L229.25,151.45 L230.00,151.77 L230.75,152.08 L231.50,152.40 L232.25,152.72 L233.00,153.04 L233.75,153.36 L234.50,153.69 L235.25,154.02 L236.00,154.35 L236.75,154.68 L237.50,155.01 L238.25,155.34 L239.00,155.68 L239.75,156.01 L240.50,156.35 L241.25,156.69 L242.00,157.03 L242.75,157.36 L243.50,157.70 L244.25,158.04 L245.00,158.38 L245.75,158.72 L246.50,159.05 L247.25,159.39 L248.00,159.73 L248.75,160.06 L249.50,160.39 L250.25,160.73 L251.00,161.06 L251.75,161.39 L252.50,161.72 L253.25,162.04 L254.00,162.37 L254.75,162.69 L255.50,163.01 L256.25,163.33 L257.00,163.65 L257.75,163.96 L258.50,164.29 L259.25,164.62 L260.00,164.96 L260.75,165.32 L261.50,165.70 L262.25,166.09 L263.00,166.51 L263.75,166.96 L264.50,167.44 L265.25,167.96 L266.00,168.50 L266.75,169.09 L267.50,169.70 L268.25,170.34 L269.00,171.01 L269.75,171.70 L270.50,172.42 L271.25,173.15 L272.00,173.90 L272.75,174.67 L273.50,175.45 L274.25,176.24 L275.00,177.04 L275.75,177.85 L276.50,178.67 L277.25,179.51 L278.00,180.36 L278.75,181.22 L279.50,182.11 L280.25,183.01 L281.00,183.94 L281.75,184.88 L282.50,185.85 L283.25,186.85 L284.00,187.86 L284.75,188.91 L285.50,189.97 L286.25,191.05 L287.00,192.15 L287.75,193.26 L288.50,194.38 L289.25,195.52 L290.00,196.66 L290.75,197.82 L291.50,198.97 L292.25,200.13 L293.00,201.30 L293.75,202.47 L294.50,203.65 L295.25,204.83 L296.00,206.02 L296.75,207.21 L297.50,208.41 L298.25,209.61 L299.00,210.82 L299.75,212.04 L300.50,213.27 L301.25,214.50 L302.00,215.74 L302.75,216.99 L303.50,218.25 L304.25,219.51 L305.00,220.78 L305.75,222.06 L306.50,223.35 L307.25,224.65 L308.00,225.96 L308.75,227.28 L309.50,228.61 L310.25,229.95 L311.00,231.29 L311.75,232.65 L312.50,234.02 L313.25,235.40 L314.00,236.80 L314.75,238.20 L315.50,239.61 L316.25,241.04 L317.00,242.48 L317.75,243.93 L318.50,245.39 L319.25,246.87 L320.00,248.36 L320.75,249.86 L321.50,251.38 L322.25,252.91 L323.00,254.46 L323.75,256.01 L324.50,257.59 L325.25,259.18 L326.00,260.78" stroke="#ff0000" stroke-width="1.3" stroke-dasharray="6,2.5,1.5,2.5"/>
<path d="M44.00,132.87 L44.75,132.89 L45.50,132.91 L46.25,132.93 L47.00,132.95 L47.75,132.97 L48.50,132.98 L49.25,133.00 L50.00,133.02 L50.75,133.04 L51.50,133.06 L52.25,133.08 L53.00,133.09 L53.75,133.11 L54.50,133.13 L55.25,133.14 L56.00,133.16 L56.75,133.18 L57.50,133.20 L58.25,133.21 L59.00,133.23 L59.75,133.24 L60.50,133.26 L61.25,133.28 L62.00,133.29 L62.75,133.31 L63.50,133.33 L64.25,133.34 L65.00,133.36 L65.75,133.37 L66.50,133.39 L67.25,133.41 L68.00,133.42 L68.75,133.44 L69.50,133.45 L70.25,133.47 L71.00,133.49 L71.75,133.50 L72.50,133.52 L73.25,133.54 L74.00,133.55 L74.75,133.57 L75.50,133.59 L76.25,133.60 L77.00,133.62 L77.75,133.64 L78.50,133.65 L79.25,133.67 L80.00,133.69 L80.75,133.71 L81.50,133.72 L82.25,133.74 L83.00,133.76 L83.75,133.78 L84.50,133.80 L85.25,133.82 L86.00,133.84 L86.75,133.85 L87.50,133.87 L88.25,133.89 L89.00,133.91 L89.75,133.94 L90.50,133.96 L91.25,133.98 L92.00,134.00 L92.75,134.02 L93.50,134.04 L94.25,134.06 L95.00,134.09 L95.75,134.11 L96.50,134.13 L97.25,134.16 L98.00,134.18 L98.75,134.21 L99.50,134.23 L100.25,134.26 L101.00,134.28 L101.75,134.31 L102.50,134.34 L103.25,134.36 L104.00,134.39 L104.75,134.42 L105.50,134.45 L106.25,134.48 L107.00,134.51 L107.75,134.54 L108.50,134.57 L109.25,134.60 L110.00,134.63 L110.75,134.66 L111.50,134.69 L112.25,134.73 L113.00,134.76 L113.75,134.80 L114.50,134.83 L115.25,134.87 L116.00,134.90 L116.75,134.94 L117.50,134.98 L118.25,135.02 L119.00,135.06 L119.75,135.10 L120.50,135.14 L121.25,135.18 L122.00,135.22 L122.75,135.26 L123.50,135.30 L124.25,135.35 L125.00,135.39 L125.75,135.44 L126.50,135.48 L127.25,135.53 L128.00,135.58 L128.75,135.62 L129.50,135.67 L130.25,135.72 L131.00,135.77 L131.75,135.83 L132.50,135.88 L133.25,135.93 L134.00,135.98 L134.75,136.04 L135.50,136.10 L136.25,136.15 L137.00,136.21 L137.75,136.27 L138.50,136.33 L139.25,136.39 L140.00,136.45 L140.75,136.51 L141.50,136.57 L142.25,136.64 L143.00,136.70 L143.75,136.77 L144.50,136.84 L145.25,136.90 L146.00,136.97 L146.75,137.04 L147.50,137.11 L148.25,137.19 L149.00,137.26 L149.75,137.34 L150.50,137.41 L151.25,137.49 L152.00,137.57 L152.75,137.65 L153.50,137.73 L154.25,137.81 L155.00,137.89 L155.75,137.97 L156.50,138.06 L157.25,138.15 L158.00,138.23 L158.75,138.32 L159.50,138.41 L160.25,138.50 L161.00,138.60 L161.75,138.69 L162.50,138.79 L163.25,138.88 L164.00,138.98 L164.75,139.08 L165.50,139.18 L166.25,139.28 L167.00,139.39 L167.75,139.49 L168.50,139.60 L169.25,139.71 L170.00,139.82 L170.75,139.93 L171.50,140.04 L172.25,140.15 L173.00,140.27 L173.75,140.38 L174.50,140.50 L175.25,140.62 L176.00,140.74 L176.75,140.87 L177.50,140.99 L178.25,141.12 L179.00,141.25 L179.75,141.38 L180.50,141.51 L181.25,141.65 L182.00,141.79 L182.75,141.93 L183.50,142.07 L184.25,142.21 L185.00,142.36 L185.75,142.51 L186.50,142.66 L187.25,142.81 L188.00,142.97 L188.75,143.13 L189.50,143.30 L190.25,143.46 L191.00,143.63 L191.75,143.80 L192.50,143.98 L193.25,144.16 L194.00,144.34 L194.75,144.52 L195.50,144.71 L196.25,144.90 L197.00,145.10 L197.75,145.29 L198.50,145.50 L199.25,145.70 L200.00,145.91 L200.75,146.12 L201.50,146.34 L202.25,146.56 L203.00,146.79 L203.75,147.02 L204.50,147.25 L205.25,147.49 L206.00,147.73 L206.75,147.97 L207.50,148.22 L208.25,148.48 L209.00,148.74 L209.75,149.00 L210.50,149.27 L211.25,149.54 L212.00,149.82 L212.75,150.10 L213.50,150.39 L214.25,150.68 L215.00,150.98 L215.75,151.28 L216.50,151.59 L217.25,151.90 L218.00,152.21 L218.75,152.54 L219.50,152.86 L220.25,153.19 L221.00,153.53 L221.75,153.87 L222.50,154.21 L223.25,154.56 L224.00,154.92 L224.75,155.27 L225.50,155.63 L226.25,155.99 L227.00,156.36 L227.75,156.73 L228.50,157.11 L229.25,157.48 L230.00,157.86 L230.75,158.24 L231.50,158.63 L232.25,159.02 L233.00,159.41 L233.75,159.80 L234.50,160.20 L235.25,160.59 L236.00,160.99 L236.75,161.39 L237.50,161.80 L238.25,162.20 L239.00,162.61 L239.75,163.01 L240.50,163.42 L241.25,163.83 L242.00,164.24 L242.75,164.64 L243.50,165.05 L244.25,165.45 L245.00,165.86 L245.75,166.26 L246.50,166.66 L247.25,167.05 L248.00,167.45 L248.75,167.84 L249.50,168.22 L250.25,168.60 L251.00,168.98 L251.75,169.35 L252.50,169.72 L253.25,170.08 L254.00,170.43 L254.75,170.78 L255.50,171.11 L256.25,171.45 L257.00,171.77 L257.75,172.09 L258.50,172.39 L259.25,172.69 L260.00,172.98 L260.75,173.26 L261.50,173.53 L262.25,173.79 L263.00,174.04 L263.75,174.29 L264.50,174.52 L265.25,174.74 L266.00,174.96 L266.75,175.16 L267.50,175.36 L268.25,175.54 L269.00,175.72 L269.75,175.89 L270.50,176.05 L271.25,176.20 L272.00,176.34 L272.75,176.46 L273.50,176.59 L274.25,176.70 L275.00,176.80 L275.75,176.89 L276.50,176.97 L277.25,177.04 L278.00,177.11 L278.75,177.16 L279.50,177.21 L280.25,177.24 L281.00,177.27 L281.75,177.28 L282.50,177.29 L283.25,177.29 L284.00,177.28 L284.75,177.26 L285.50,177.24 L286.25,177.21 L287.00,177.17 L287.75,177.14 L288.50,177.09 L289.25,177.04 L290.00,177.00 L290.75,176.94 L291.50,176.89 L292.25,176.83 L293.00,176.78 L293.75,176.72 L294.50,176.67 L295.25,176.61 L296.00,176.56 L296.75,176.51 L297.50,176.47 L298.25,176.42 L299.00,176.38 L299.75,176.35 L300.50,176.32 L301.25,176.30 L302.00,176.28 L302.75,176.28 L303.50,176.28 L304.25,176.30 L305.00,176.33 L305.75,176.38 L306.50,176.46 L307.25,176.57 L308.00,176.70 L308.75,176.87 L309.50,177.08 L310.25,177.32 L311.00,177.61 L311.75,177.95 L312.50,178.34 L313.25,178.78 L314.00,179.28 L314.75,179.82 L315.50,180.42 L316.25,181.07 L317.00,181.75 L317.75,182.48 L318.50,183.25 L319.25,184.05 L320.00,184.88 L320.75,185.74 L321.50,186.63 L322.25,187.55 L323.00,188.48 L323.75,189.43 L324.50,190.40 L325.25,191.41 L326.00,192.50 L326.75,193.71 L327.50,195.08 L328.25,196.56 L329.00,198.08 L329.75,199.57 L330.50,200.95 L331.25,202.20 L332.00,203.34 L332.75,204.40 L333.50,205.39 L334.25,206.33 L335.00,207.24 L335.75,208.13 L336.50,209.00 L337.25,209.86 L338.00,210.68 L338.75,211.48 L339.50,212.23 L340.25,212.94 L341.00,213.59 L341.75,214.19 L342.50,214.73 L343.25,215.21 L344.00,215.60 L344.75,215.92 L345.50,216.16 L346.25,216.31 L347.00,216.38 L347.75,216.38 L348.50,216.32 L349.25,216.18 L350.00,215.99 L350.75,215.74 L351.50,215.45 L352.25,215.10 L353.00,214.72 L353.75,214.30 L354.50,213.85 L355.25,213.38 L356.00,212.88 L356.75,212.37 L357.50,211.85 L358.25,211.33 L359.00,210.84 L359.75,210.36 L360.50,209.93 L361.25,209.54 L362.00,209.22 L362.75,208.96 L363.50,208.79 L364.25,208.70 L365.00,208.72 L365.75,208.86 L366.50,209.11 L367.25,209.49 L368.00,209.99 L368.75,210.59 L369.50,211.29 L370.25,212.08 L371.00,212.96 L371.75,213.92 L372.50,214.95 L373.25,216.03 L374.00,217.18 L374.75,218.37 L375.50,219.60 L376.25,220.86 L377.00,222.14 L377.75,223.44 L378.50,224.75 L379.25,226.06 L380.00,227.36 L380.75,228.65 L381.50,229.92 L382.25,231.16 L383.00,232.36 L383.75,233.52 L384.50,234.63 L385.25,235.67 L386.00,236.65 L386.75,237.55 L387.00,237.84" stroke="#0000ff" stroke-width="1.3"/>
<path d="M44.00,132.85 L44.75,132.88 L45.50,132.90 L46.25,132.93 L47.00,132.95 L47.75,132.97 L48.50,133.00 L49.25,133.02 L50.00,133.04 L50.75,133.06 L51.50,133.09 L52.25,133.11 L53.00,133.13 L53.75,133.15 L54.50,133.17 L55.25,133.19 L56.00,133.21 L56.75,133.24 L57.50,133.26 L58.25,133.28 L59.00,133.30 L59.75,133.32 L60.50,133.34 L61.25,133.36 L62.00,133.38 L62.75,133.40 L63.50,133.42 L64.25,133.44 L65.00,133.46 L65.75,133.48 L66.50,133.50 L67.25,133.52 L68.00,133.54 L68.75,133.56 L69.50,133.58 L70.25,133.60 L71.00,133.62 L71.75,133.63 L72.50,133.65 L73.25,133.67 L74.00,133.70 L74.75,133.72 L75.50,133.74 L76.25,133.76 L77.00,133.78 L77.75,133.80 L78.50,133.82 L79.25,133.84 L80.00,133.86 L80.75,133.88 L81.50,133.90 L82.25,133.93 L83.00,133.95 L83.75,133.97 L84.50,133.99 L85.25,134.01 L86.00,134.04 L86.75,134.06 L87.50,134.08 L88.25,134.11 L89.00,134.13 L89.75,134.16 L90.50,134.18 L91.25,134.21 L92.00,134.23 L92.75,134.26 L93.50,134.28 L94.25,134.31 L95.00,134.34 L95.75,134.37 L96.50,134.39 L97.25,134.42 L98.00,134.45 L98.75,134.48 L99.50,134.51 L100.25,134.54 L101.00,134.57 L101.75,134.60 L102.50,134.63 L103.25,134.66 L104.00,134.70 L104.75,134.73 L105.50,134.76 L106.25,134.80 L107.00,134.83 L107.75,134.87 L108.50,134.90 L109.25,134.94 L110.00,134.98 L110.75,135.02 L111.50,135.05 L112.25,135.09 L113.00,135.13 L113.75,135.17 L114.50,135.21 L115.25,135.26 L116.00,135.30 L116.75,135.34 L117.50,135.39 L118.25,135.43 L119.00,135.48 L119.75,135.52 L120.50,135.57 L121.25,135.62 L122.00,135.67 L122.75,135.71 L123.50,135.76 L124.25,135.82 L125.00,135.87 L125.75,135.92 L126.50,135.97 L127.25,136.03 L128.00,136.08 L128.75,136.14 L129.50,136.20 L130.25,136.25 L131.00,136.31 L131.75,136.37 L132.50,136.43 L133.25,136.50 L134.00,136.56 L134.75,136.62 L135.50,136.69 L136.25,136.76 L137.00,136.83 L137.75,136.90 L138.50,136.97 L139.25,137.04 L140.00,137.11 L140.75,137.19 L141.50,137.26 L142.25,137.34 L143.00,137.42 L143.75,137.50 L144.50,137.58 L145.25,137.67 L146.00,137.75 L146.75,137.84 L147.50,137.93 L148.25,138.02 L149.00,138.11 L149.75,138.20 L150.50,138.30 L151.25,138.39 L152.00,138.49 L152.75,138.59 L153.50,138.70 L154.25,138.80 L155.00,138.91 L155.75,139.02 L156.50,139.13 L157.25,139.24 L158.00,139.35 L158.75,139.47 L159.50,139.59 L160.25,139.71 L161.00,139.83 L161.75,139.95 L162.50,140.08 L163.25,140.21 L164.00,140.34 L164.75,140.48 L165.50,140.61 L166.25,140.75 L167.00,140.89 L167.75,141.03 L168.50,141.18 L169.25,141.33 L170.00,141.48 L170.75,141.63 L171.50,141.78 L172.25,141.94 L173.00,142.10 L173.75,142.27 L174.50,142.43 L175.25,142.60 L176.00,142.77 L176.75,142.95 L177.50,143.12 L178.25,143.30 L179.00,143.48 L179.75,143.67 L180.50,143.86 L181.25,144.05 L182.00,144.24 L182.75,144.44 L183.50,144.64 L184.25,144.84 L185.00,145.04 L185.75,145.25 L186.50,145.46 L187.25,145.68 L188.00,145.90 L188.75,146.12 L189.50,146.34 L190.25,146.57 L191.00,146.80 L191.75,147.03 L192.50,147.27 L193.25,147.51 L194.00,147.76 L194.75,148.00 L195.50,148.25 L196.25,148.51 L197.00,148.76 L197.75,149.03 L198.50,149.29 L199.25,149.56 L200.00,149.83 L200.75,150.11 L201.50,150.38 L202.25,150.67 L203.00,150.95 L203.75,151.24 L204.50,151.54 L205.25,151.84 L206.00,152.14 L206.75,152.44 L207.50,152.75 L208.25,153.06 L209.00,153.38 L209.75,153.70 L210.50,154.03 L211.25,154.36 L212.00,154.69 L212.75,155.02 L213.50,155.36 L214.25,155.71 L215.00,156.05 L215.75,156.40 L216.50,156.76 L217.25,157.12 L218.00,157.48 L218.75,157.84 L219.50,158.21 L220.25,158.59 L221.00,158.96 L221.75,159.34 L222.50,159.72 L223.25,160.11 L224.00,160.50 L224.75,160.89 L225.50,161.29 L226.25,161.69 L227.00,162.09 L227.75,162.50 L228.50,162.91 L229.25,163.32 L230.00,163.73 L230.75,164.15 L231.50,164.58 L232.25,165.00 L233.00,165.43 L233.75,165.86 L234.50,166.29 L235.25,166.73 L236.00,167.17 L236.75,167.62 L237.50,168.06 L238.25,168.51 L239.00,168.96 L239.75,169.42 L240.50,169.88 L241.25,170.34 L242.00,170.80 L242.75,171.27 L243.50,171.73 L244.25,172.21 L245.00,172.68 L245.75,173.16 L246.50,173.64 L247.25,174.12 L248.00,174.60 L248.75,175.09 L249.50,175.58 L250.25,176.07 L251.00,176.56 L251.75,177.05 L252.50,177.54 L253.25,178.02 L254.00,178.49 L254.75,178.95 L255.50,179.40 L256.25,179.84 L257.00,180.27 L257.75,180.68 L258.50,181.07 L259.25,181.44 L260.00,181.80 L260.75,182.13 L261.50,182.44 L262.25,182.72 L263.00,182.99 L263.75,183.24 L264.50,183.47 L265.25,183.68 L266.00,183.88 L266.75,184.06 L267.50,184.23 L268.25,184.38 L269.00,184.53 L269.75,184.66 L270.50,184.78 L271.25,184.89 L272.00,184.99 L272.75,185.08 L273.50,185.16 L274.25,185.23 L275.00,185.29 L275.75,185.34 L276.50,185.39 L277.25,185.42 L278.00,185.44 L278.75,185.46 L279.50,185.47 L280.25,185.47 L281.00,185.46 L281.75,185.44 L282.50,185.41 L283.25,185.38 L284.00,185.34 L284.75,185.29 L285.50,185.23 L286.25,185.17 L287.00,185.09 L287.75,185.01 L288.50,184.93 L289.25,184.83 L290.00,184.73 L290.75,184.62 L291.50,184.51 L292.25,184.39 L293.00,184.28 L293.75,184.16 L294.50,184.04 L295.25,183.93 L296.00,183.82 L296.75,183.71 L297.50,183.62 L298.25,183.53 L299.00,183.46 L299.75,183.40 L300.50,183.35 L301.25,183.32 L302.00,183.30 L302.75,183.31 L303.50,183.34 L304.25,183.39 L305.00,183.46 L305.75,183.56 L306.50,183.69 L307.25,183.85 L308.00,184.03 L308.75,184.26 L309.50,184.51 L310.25,184.80 L311.00,185.13 L311.75,185.50 L312.50,185.91 L313.25,186.37 L314.00,186.89 L314.75,187.47 L315.50,188.12 L316.25,188.84 L317.00,189.64 L317.75,190.53 L318.50,191.50 L319.25,192.57 L320.00,193.74 L320.75,195.02 L321.50,196.41 L322.25,197.90 L323.00,199.49 L323.75,201.16 L324.50,202.90 L325.25,204.69 L326.00,206.52 L326.75,208.38 L327.50,210.26 L328.25,212.14 L329.00,214.02 L329.75,215.87 L330.50,217.68 L331.25,219.45 L332.00,221.16 L332.75,222.81 L333.50,224.39 L334.25,225.89 L335.00,227.32 L335.75,228.66 L336.50,229.91 L337.25,231.06 L338.00,232.11 L338.75,233.06 L339.50,233.89 L340.25,234.61 L341.00,235.20 L341.75,235.67 L342.50,236.00 L343.25,236.20 L344.00,236.28 L344.75,236.26 L345.50,236.13 L346.25,235.91 L347.00,235.60 L347.75,235.22 L348.50,234.78 L349.25,234.28 L350.00,233.74 L350.75,233.16 L351.50,232.55 L352.25,231.93 L353.00,231.29 L353.75,230.66 L354.50,230.04 L355.25,229.44 L356.00,228.87 L356.75,228.34 L357.50,227.86 L358.25,227.44 L359.00,227.09 L359.75,226.82 L360.50,226.64 L361.25,226.56 L362.00,226.58 L362.75,226.73 L363.50,227.00 L364.25,227.41 L365.00,227.97 L365.75,228.69 L366.50,229.57 L367.25,230.63 L368.00,231.88 L368.75,233.32 L369.50,234.97 L370.25,236.84 L371.00,238.93 L371.75,241.26 L372.00,242.09" stroke="#ff0000" stroke-width="1.3"/>
<path d="M44.00,133.11 L44.75,133.10 L45.50,133.09 L46.25,133.09 L47.00,133.08 L47.75,133.08 L48.50,133.08 L49.25,133.08 L50.00,133.09 L50.75,133.09 L51.50,133.10 L52.25,133.11 L53.00,133.12 L53.75,133.13 L54.50,133.15 L55.25,133.16 L56.00,133.18 L56.75,133.20 L57.50,133.22 L58.25,133.24 L59.00,133.26 L59.75,133.28 L60.50,133.31 L61.25,133.33 L62.00,133.36 L62.75,133.39 L63.50,133.42 L64.25,133.44 L65.00,133.47 L65.75,133.51 L66.50,133.54 L67.25,133.57 L68.00,133.60 L68.75,133.64 L69.50,133.67 L70.25,133.70 L71.00,133.74 L71.75,133.77 L72.50,133.81 L73.25,133.84 L74.00,133.88 L74.75,133.92 L75.50,133.95 L76.25,133.99 L77.00,134.03 L77.75,134.06 L78.50,134.10 L79.25,134.14 L80.00,134.17 L80.75,134.21 L81.50,134.24 L82.25,134.28 L83.00,134.31 L83.75,134.35 L84.50,134.38 L85.25,134.42 L86.00,134.45 L86.75,134.48 L87.50,134.51 L88.25,134.54 L89.00,134.58 L89.75,134.61 L90.50,134.64 L91.25,134.67 L92.00,134.70 L92.75,134.73 L93.50,134.76 L94.25,134.79 L95.00,134.82 L95.75,134.84 L96.50,134.87 L97.25,134.90 L98.00,134.93 L98.75,134.96 L99.50,134.99 L100.25,135.02 L101.00,135.05 L101.75,135.08 L102.50,135.11 L103.25,135.14 L104.00,135.17 L104.75,135.20 L105.50,135.24 L106.25,135.27 L107.00,135.30 L107.75,135.33 L108.50,135.37 L109.25,135.40 L110.00,135.44 L110.75,135.47 L111.50,135.51 L112.25,135.55 L113.00,135.58 L113.75,135.62 L114.50,135.66 L115.25,135.70 L116.00,135.74 L116.75,135.78 L117.50,135.83 L118.25,135.87 L119.00,135.92 L119.75,135.96 L120.50,136.01 L121.25,136.06 L122.00,136.11 L122.75,136.16 L123.50,136.21 L124.25,136.27 L125.00,136.32 L125.75,136.38 L126.50,136.44 L127.25,136.49 L128.00,136.55 L128.75,136.62 L129.50,136.68 L130.25,136.75 L131.00,136.81 L131.75,136.88 L132.50,136.95 L133.25,137.02 L134.00,137.10 L134.75,137.17 L135.50,137.25 L136.25,137.33 L137.00,137.41 L137.75,137.49 L138.50,137.58 L139.25,137.66 L140.00,137.75 L140.75,137.84 L141.50,137.93 L142.25,138.03 L143.00,138.13 L143.75,138.22 L144.50,138.33 L145.25,138.43 L146.00,138.53 L146.75,138.64 L147.50,138.75 L148.25,138.86 L149.00,138.98 L149.75,139.10 L150.50,139.21 L151.25,139.34 L152.00,139.46 L152.75,139.59 L153.50,139.72 L154.25,139.85 L155.00,139.98 L155.75,140.12 L156.50,140.26 L157.25,140.40 L158.00,140.55 L158.75,140.70 L159.50,140.85 L160.25,141.00 L161.00,141.16 L161.75,141.32 L162.50,141.48 L163.25,141.64 L164.00,141.81 L164.75,141.98 L165.50,142.15 L166.25,142.33 L167.00,142.51 L167.75,142.70 L168.50,142.88 L169.25,143.07 L170.00,143.26 L170.75,143.46 L171.50,143.66 L172.25,143.86 L173.00,144.07 L173.75,144.28 L174.50,144.49 L175.25,144.71 L176.00,144.93 L176.75,145.15 L177.50,145.38 L178.25,145.61 L179.00,145.84 L179.75,146.08 L180.50,146.32 L181.25,146.56 L182.00,146.81 L182.75,147.06 L183.50,147.32 L184.25,147.58 L185.00,147.84 L185.75,148.11 L186.50,148.38 L187.25,148.66 L188.00,148.93 L188.75,149.22 L189.50,149.50 L190.25,149.80 L191.00,150.09 L191.75,150.39 L192.50,150.69 L193.25,151.00 L194.00,151.31 L194.75,151.63 L195.50,151.95 L196.25,152.27 L197.00,152.60 L197.75,152.94 L198.50,153.27 L199.25,153.62 L200.00,153.96 L200.75,154.31 L201.50,154.67 L202.25,155.03 L203.00,155.40 L203.75,155.76 L204.50,156.14 L205.25,156.52 L206.00,156.90 L206.75,157.29 L207.50,157.68 L208.25,158.08 L209.00,158.48 L209.75,158.89 L210.50,159.30 L211.25,159.72 L212.00,160.15 L212.75,160.58 L213.50,161.01 L214.25,161.45 L215.00,161.90 L215.75,162.35 L216.50,162.81 L217.25,163.28 L218.00,163.75 L218.75,164.22 L219.50,164.71 L220.25,165.20 L221.00,165.69 L221.75,166.19 L222.50,166.70 L223.25,167.22 L224.00,167.74 L224.75,168.27 L225.50,168.81 L226.25,169.35 L227.00,169.90 L227.75,170.46 L228.50,171.02 L229.25,171.59 L230.00,172.16 L230.75,172.74 L231.50,173.32 L232.25,173.90 L233.00,174.49 L233.75,175.08 L234.50,175.67 L235.25,176.26 L236.00,176.85 L236.75,177.44 L237.50,178.03 L238.25,178.62 L239.00,179.21 L239.75,179.80 L240.50,180.38 L241.25,180.96 L242.00,181.54 L242.75,182.12 L243.50,182.68 L244.25,183.25 L245.00,183.81 L245.75,184.36 L246.50,184.90 L247.25,185.44 L248.00,185.97 L248.75,186.49 L249.50,187.00 L250.25,187.50 L251.00,187.99 L251.75,188.47 L252.50,188.94 L253.25,189.39 L254.00,189.83 L254.75,190.26 L255.50,190.68 L256.25,191.08 L257.00,191.46 L257.75,191.83 L258.50,192.18 L259.25,192.52 L260.00,192.83 L260.75,193.13 L261.50,193.41 L262.25,193.67 L263.00,193.91 L263.75,194.13 L264.50,194.32 L265.25,194.50 L266.00,194.65 L266.75,194.78 L267.50,194.88 L268.25,194.97 L269.00,195.03 L269.75,195.07 L270.50,195.09 L271.25,195.09 L272.00,195.08 L272.75,195.04 L273.50,194.99 L274.25,194.92 L275.00,194.84 L275.75,194.74 L276.50,194.63 L277.25,194.50 L278.00,194.36 L278.75,194.21 L279.50,194.04 L280.25,193.87 L281.00,193.68 L281.75,193.48 L282.50,193.28 L283.25,193.07 L284.00,192.85 L284.75,192.62 L285.50,192.39 L286.25,192.15 L287.00,191.90 L287.75,191.66 L288.50,191.41 L289.25,191.17 L290.00,190.92 L290.75,190.69 L291.50,190.46 L292.25,190.24 L293.00,190.03 L293.75,189.83 L294.50,189.65 L295.25,189.49 L296.00,189.34 L296.75,189.22 L297.50,189.12 L298.25,189.04 L299.00,188.99 L299.75,188.97 L300.50,188.98 L301.25,189.02 L302.00,189.09 L302.75,189.21 L303.50,189.36 L304.25,189.55 L305.00,189.78 L305.75,190.06 L306.50,190.38 L307.25,190.75 L308.00,191.19 L308.75,191.69 L309.50,192.28 L310.25,192.94 L311.00,193.70 L311.75,194.56 L312.50,195.53 L313.25,196.62 L314.00,197.83 L314.75,199.18 L315.50,200.67 L316.25,202.30 L317.00,204.09 L317.75,206.02 L318.50,208.06 L319.25,210.20 L320.00,212.44 L320.75,214.74 L321.50,217.10 L322.25,219.50 L323.00,221.93 L323.75,224.36 L324.50,226.78 L325.25,229.19 L326.00,231.55 L326.75,233.86 L327.50,236.09 L328.25,238.23 L329.00,240.25 L329.75,242.14 L330.50,243.87 L331.25,245.43 L332.00,246.80 L332.75,247.99 L333.50,249.03 L334.25,249.91 L335.00,250.66 L335.75,251.28 L336.50,251.79 L337.25,252.19 L338.00,252.49 L338.75,252.68 L339.50,252.77 L340.25,252.77 L341.00,252.67 L341.75,252.47 L342.50,252.19 L343.25,251.81 L344.00,251.35 L344.75,250.81 L345.50,250.18 L346.25,249.48 L347.00,248.70 L347.75,247.86 L348.50,246.96 L349.25,246.00 L350.00,245.01 L350.75,243.98 L351.50,242.92 L352.25,241.86 L353.00,240.85 L353.75,239.91 L354.50,239.09 L355.25,238.43 L356.00,237.95 L356.75,237.71 L357.50,237.69 L358.25,237.90 L359.00,238.34 L359.75,239.00 L360.50,239.89 L361.25,240.99 L362.00,242.32 L362.75,243.86 L363.50,245.62 L364.25,247.60 L365.00,249.79 L365.75,252.19 L366.00,253.03" stroke="#008b00" stroke-width="1.3"/>
<path d="M44.00,133.03 L44.75,133.04 L45.50,133.04 L46.25,133.05 L47.00,133.05 L47.75,133.06 L48.50,133.07 L49.25,133.08 L50.00,133.09 L50.75,133.10 L51.50,133.11 L52.25,133.12 L53.00,133.13 L53.75,133.15 L54.50,133.16 L55.25,133.18 L56.00,133.19 L56.75,133.21 L57.50,133.23 L58.25,133.24 L59.00,133.26 L59.75,133.28 L60.50,133.30 L61.25,133.32 L62.00,133.34 L62.75,133.36 L63.50,133.39 L64.25,133.41 L65.00,133.43 L65.75,133.46 L66.50,133.48 L67.25,133.51 L68.00,133.53 L68.75,133.56 L69.50,133.58 L70.25,133.61 L71.00,133.64 L71.75,133.67 L72.50,133.70 L73.25,133.73 L74.00,133.76 L74.75,133.79 L75.50,133.82 L76.25,133.85 L77.00,133.88 L77.75,133.92 L78.50,133.95 L79.25,133.98 L80.00,134.02 L80.75,134.05 L81.50,134.08 L82.25,134.12 L83.00,134.16 L83.75,134.19 L84.50,134.23 L85.25,134.26 L86.00,134.30 L86.75,134.34 L87.50,134.38 L88.25,134.41 L89.00,134.45 L89.75,134.49 L90.50,134.53 L91.25,134.57 L92.00,134.61 L92.75,134.65 L93.50,134.69 L94.25,134.73 L95.00,134.77 L95.75,134.81 L96.50,134.86 L97.25,134.90 L98.00,134.94 L98.75,134.98 L99.50,135.02 L100.25,135.07 L101.00,135.11 L101.75,135.15 L102.50,135.20 L103.25,135.24 L104.00,135.28 L104.75,135.33 L105.50,135.37 L106.25,135.41 L107.00,135.46 L107.75,135.50 L108.50,135.55 L109.25,135.59 L110.00,135.64 L110.75,135.68 L111.50,135.73 L112.25,135.77 L113.00,135.82 L113.75,135.86 L114.50,135.91 L115.25,135.95 L116.00,136.00 L116.75,136.04 L117.50,136.09 L118.25,136.13 L119.00,136.18 L119.75,136.22 L120.50,136.27 L121.25,136.32 L122.00,136.37 L122.75,136.42 L123.50,136.47 L124.25,136.52 L125.00,136.57 L125.75,136.62 L126.50,136.68 L127.25,136.74 L128.00,136.80 L128.75,136.86 L129.50,136.92 L130.25,136.98 L131.00,137.05 L131.75,137.12 L132.50,137.19 L133.25,137.26 L134.00,137.34 L134.75,137.42 L135.50,137.50 L136.25,137.58 L137.00,137.67 L137.75,137.76 L138.50,137.85 L139.25,137.95 L140.00,138.05 L140.75,138.15 L141.50,138.25 L142.25,138.37 L143.00,138.48 L143.75,138.60 L144.50,138.72 L145.25,138.85 L146.00,138.98 L146.75,139.11 L147.50,139.25 L148.25,139.39 L149.00,139.54 L149.75,139.70 L150.50,139.85 L151.25,140.02 L152.00,140.19 L152.75,140.36 L153.50,140.54 L154.25,140.72 L155.00,140.91 L155.75,141.10 L156.50,141.30 L157.25,141.50 L158.00,141.71 L158.75,141.92 L159.50,142.14 L160.25,142.36 L161.00,142.58 L161.75,142.81 L162.50,143.04 L163.25,143.28 L164.00,143.52 L164.75,143.76 L165.50,144.01 L166.25,144.26 L167.00,144.51 L167.75,144.77 L168.50,145.03 L169.25,145.29 L170.00,145.56 L170.75,145.83 L171.50,146.10 L172.25,146.38 L173.00,146.65 L173.75,146.93 L174.50,147.21 L175.25,147.50 L176.00,147.78 L176.75,148.07 L177.50,148.36 L178.25,148.66 L179.00,148.95 L179.75,149.25 L180.50,149.54 L181.25,149.84 L182.00,150.14 L182.75,150.45 L183.50,150.75 L184.25,151.05 L185.00,151.36 L185.75,151.66 L186.50,151.97 L187.25,152.28 L188.00,152.59 L188.75,152.90 L189.50,153.21 L190.25,153.52 L191.00,153.84 L191.75,154.16 L192.50,154.48 L193.25,154.80 L194.00,155.13 L194.75,155.47 L195.50,155.81 L196.25,156.15 L197.00,156.50 L197.75,156.86 L198.50,157.23 L199.25,157.60 L200.00,157.97 L200.75,158.36 L201.50,158.76 L202.25,159.16 L203.00,159.57 L203.75,160.00 L204.50,160.43 L205.25,160.87 L206.00,161.32 L206.75,161.79 L207.50,162.26 L208.25,162.75 L209.00,163.25 L209.75,163.76 L210.50,164.28 L211.25,164.81 L212.00,165.35 L212.75,165.90 L213.50,166.47 L214.25,167.04 L215.00,167.63 L215.75,168.23 L216.50,168.84 L217.25,169.46 L218.00,170.09 L218.75,170.74 L219.50,171.39 L220.25,172.06 L221.00,172.74 L221.75,173.43 L222.50,174.14 L223.25,174.85 L224.00,175.58 L224.75,176.32 L225.50,177.07 L226.25,177.82 L227.00,178.58 L227.75,179.35 L228.50,180.12 L229.25,180.90 L230.00,181.67 L230.75,182.45 L231.50,183.23 L232.25,184.00 L233.00,184.77 L233.75,185.54 L234.50,186.30 L235.25,187.06 L236.00,187.81 L236.75,188.54 L237.50,189.27 L238.25,189.99 L239.00,190.69 L239.75,191.38 L240.50,192.06 L241.25,192.72 L242.00,193.36 L242.75,193.98 L243.50,194.59 L244.25,195.17 L245.00,195.74 L245.75,196.29 L246.50,196.82 L247.25,197.33 L248.00,197.82 L248.75,198.29 L249.50,198.74 L250.25,199.16 L251.00,199.57 L251.75,199.95 L252.50,200.31 L253.25,200.65 L254.00,200.97 L254.75,201.26 L255.50,201.53 L256.25,201.77 L257.00,201.99 L257.75,202.18 L258.50,202.35 L259.25,202.49 L260.00,202.62 L260.75,202.71 L261.50,202.79 L262.25,202.85 L263.00,202.89 L263.75,202.92 L264.50,202.93 L265.25,202.93 L266.00,202.91 L266.75,202.89 L267.50,202.85 L268.25,202.80 L269.00,202.75 L269.75,202.68 L270.50,202.60 L271.25,202.51 L272.00,202.40 L272.75,202.27 L273.50,202.14 L274.25,201.98 L275.00,201.81 L275.75,201.62 L276.50,201.40 L277.25,201.17 L278.00,200.93 L278.75,200.66 L279.50,200.38 L280.25,200.09 L281.00,199.78 L281.75,199.46 L282.50,199.13 L283.25,198.80 L284.00,198.45 L284.75,198.10 L285.50,197.74 L286.25,197.38 L287.00,197.02 L287.75,196.67 L288.50,196.31 L289.25,195.96 L290.00,195.63 L290.75,195.30 L291.50,194.99 L292.25,194.69 L293.00,194.42 L293.75,194.17 L294.50,193.94 L295.25,193.74 L296.00,193.56 L296.75,193.43 L297.50,193.32 L298.25,193.26 L299.00,193.23 L299.75,193.25 L300.50,193.31 L301.25,193.42 L302.00,193.59 L302.75,193.81 L303.50,194.08 L304.25,194.41 L305.00,194.81 L305.75,195.27 L306.50,195.80 L307.25,196.40 L308.00,197.07 L308.75,197.82 L309.50,198.64 L310.25,199.55 L311.00,200.54 L311.75,201.61 L312.50,202.78 L313.25,204.05 L314.00,205.47 L314.75,207.04 L315.50,208.81 L316.25,210.80 L317.00,213.04 L317.75,215.55 L318.50,218.27 L319.25,221.17 L320.00,224.18 L320.75,227.25 L321.50,230.33 L322.25,233.40 L323.00,236.46 L323.75,239.53 L324.50,242.59 L325.25,245.66 L326.00,248.73 L326.75,251.82 L327.50,254.92 L328.25,258.04 L328.60,259.51" stroke="#40e0d0" stroke-width="1.3"/>
</g>
<g stroke="#000" stroke-width="1.0"><line x1="44.00" y1="0.60" x2="44.00" y2="7.60"/><line x1="44.00" y1="130.45" x2="44.00" y2="123.45"/><line x1="216.50" y1="0.60" x2="216.50" y2="7.60"/><line x1="216.50" y1="130.45" x2="216.50" y2="123.45"/><line x1="389.00" y1="0.60" x2="389.00" y2="7.60"/><line x1="389.00" y1="130.45" x2="389.00" y2="123.45"/><line x1="95.93" y1="0.60" x2="95.93" y2="4.10"/><line x1="95.93" y1="130.45" x2="95.93" y2="126.95"/><line x1="126.30" y1="0.60" x2="126.30" y2="4.10"/><line x1="126.30" y1="130.45" x2="126.30" y2="126.95"/><line x1="147.86" y1="0.60" x2="147.86" y2="4.10"/><line x1="147.86" y1="130.45" x2="147.86" y2="126.95"/><line x1="164.57" y1="0.60" x2="164.57" y2="4.10"/><line x1="164.57" y1="130.45" x2="164.57" y2="126.95"/><line x1="178.23" y1="0.60" x2="178.23" y2="4.10"/><line x1="178.23" y1="130.45" x2="178.23" y2="126.95"/><line x1="189.78" y1="0.60" x2="189.78" y2="4.10"/><line x1="189.78" y1="130.45" x2="189.78" y2="126.95"/><line x1="199.78" y1="0.60" x2="199.78" y2="4.10"/><line x1="199.78" y1="130.45" x2="199.78" y2="126.95"/><line x1="208.61" y1="0.60" x2="208.61" y2="4.10"/><line x1="208.61" y1="130.45" x2="208.61" y2="126.95"/><line x1="268.43" y1="0.60" x2="268.43" y2="4.10"/><line x1="268.43" y1="130.45" x2="268.43" y2="126.95"/><line x1="298.80" y1="0.60" x2="298.80" y2="4.10"/><line x1="298.80" y1="130.45" x2="298.80" y2="126.95"/><line x1="320.36" y1="0.60" x2="320.36" y2="4.10"/><line x1="320.36" y1="130.45" x2="320.36" y2="126.95"/><line x1="337.07" y1="0.60" x2="337.07" y2="4.10"/><line x1="337.07" y1="130.45" x2="337.07" y2="126.95"/><line x1="350.73" y1="0.60" x2="350.73" y2="4.10"/><line x1="350.73" y1="130.45" x2="350.73" y2="126.95"/><line x1="362.28" y1="0.60" x2="362.28" y2="4.10"/><line x1="362.28" y1="130.45" x2="362.28" y2="126.95"/><line x1="372.28" y1="0.60" x2="372.28" y2="4.10"/><line x1="372.28" y1="130.45" x2="372.28" y2="126.95"/><line x1="381.11" y1="0.60" x2="381.11" y2="4.10"/><line x1="381.11" y1="130.45" x2="381.11" y2="126.95"/><line x1="44.00" y1="130.45" x2="44.00" y2="137.45"/><line x1="44.00" y1="259.70" x2="44.00" y2="252.70"/><line x1="216.50" y1="130.45" x2="216.50" y2="137.45"/><line x1="216.50" y1="259.70" x2="216.50" y2="252.70"/><line x1="389.00" y1="130.45" x2="389.00" y2="137.45"/><line x1="389.00" y1="259.70" x2="389.00" y2="252.70"/><line x1="95.93" y1="130.45" x2="95.93" y2="133.95"/><line x1="95.93" y1="259.70" x2="95.93" y2="256.20"/><line x1="126.30" y1="130.45" x2="126.30" y2="133.95"/><line x1="126.30" y1="259.70" x2="126.30" y2="256.20"/><line x1="147.86" y1="130.45" x2="147.86" y2="133.95"/><line x1="147.86" y1="259.70" x2="147.86" y2="256.20"/><line x1="164.57" y1="130.45" x2="164.57" y2="133.95"/><line x1="164.57" y1="259.70" x2="164.57" y2="256.20"/><line x1="178.23" y1="130.45" x2="178.23" y2="133.95"/><line x1="178.23" y1="259.70" x2="178.23" y2="256.20"/><line x1="189.78" y1="130.45" x2="189.78" y2="133.95"/><line x1="189.78" y1="259.70" x2="189.78" y2="256.20"/><line x1="199.78" y1="130.45" x2="199.78" y2="133.95"/><line x1="199.78" y1="259.70" x2="199.78" y2="256.20"/><line x1="208.61" y1="130.45" x2="208.61" y2="133.95"/><line x1="208.61" y1="259.70" x2="208.61" y2="256.20"/><line x1="268.43" y1="130.45" x2="268.43" y2="133.95"/><line x1="268.43" y1="259.70" x2="268.43" y2="256.20"/><line x1="298.80" y1="130.45" x2="298.80" y2="133.95"/><line x1="298.80" y1="259.70" x2="298.80" y2="256.20"/><line x1="320.36" y1="130.45" x2="320.36" y2="133.95"/><line x1="320.36" y1="259.70" x2="320.36" y2="256.20"/><line x1="337.07" y1="130.45" x2="337.07" y2="133.95"/><line x1="337.07" y1="259.70" x2="337.07" y2="256.20"/><line x1="350.73" y1="130.45" x2="350.73" y2="133.95"/><line x1="350.73" y1="259.70" x2="350.73" y2="256.20"/><line x1="362.28" y1="130.45" x2="362.28" y2="133.95"/><line x1="362.28" y1="259.70" x2="362.28" y2="256.20"/><line x1="372.28" y1="130.45" x2="372.28" y2="133.95"/><line x1="372.28" y1="259.70" x2="372.28" y2="256.20"/><line x1="381.11" y1="130.45" x2="381.11" y2="133.95"/><line x1="381.11" y1="259.70" x2="381.11" y2="256.20"/><line x1="44.00" y1="6.04" x2="51.00" y2="6.04"/><line x1="389.30" y1="6.04" x2="382.30" y2="6.04"/><line x1="44.00" y1="34.61" x2="51.00" y2="34.61"/><line x1="389.30" y1="34.61" x2="382.30" y2="34.61"/><line x1="44.00" y1="64.73" x2="51.00" y2="64.73"/><line x1="389.30" y1="64.73" x2="382.30" y2="64.73"/><line x1="44.00" y1="96.57" x2="51.00" y2="96.57"/><line x1="389.30" y1="96.57" x2="382.30" y2="96.57"/><line x1="44.00" y1="123.43" x2="47.50" y2="123.43"/><line x1="389.30" y1="123.43" x2="385.80" y2="123.43"/><line x1="44.00" y1="116.59" x2="47.50" y2="116.59"/><line x1="389.30" y1="116.59" x2="385.80" y2="116.59"/><line x1="44.00" y1="109.84" x2="47.50" y2="109.84"/><line x1="389.30" y1="109.84" x2="385.80" y2="109.84"/><line x1="44.00" y1="103.17" x2="47.50" y2="103.17"/><line x1="389.30" y1="103.17" x2="385.80" y2="103.17"/><line x1="44.00" y1="90.06" x2="47.50" y2="90.06"/><line x1="389.30" y1="90.06" x2="385.80" y2="90.06"/><line x1="44.00" y1="83.62" x2="47.50" y2="83.62"/><line x1="389.30" y1="83.62" x2="385.80" y2="83.62"/><line x1="44.00" y1="77.25" x2="47.50" y2="77.25"/><line x1="389.30" y1="77.25" x2="385.80" y2="77.25"/><line x1="44.00" y1="70.96" x2="47.50" y2="70.96"/><line x1="389.30" y1="70.96" x2="385.80" y2="70.96"/><line x1="44.00" y1="58.58" x2="47.50" y2="58.58"/><line x1="389.30" y1="58.58" x2="385.80" y2="58.58"/><line x1="44.00" y1="52.49" x2="47.50" y2="52.49"/><line x1="389.30" y1="52.49" x2="385.80" y2="52.49"/><line x1="44.00" y1="46.47" x2="47.50" y2="46.47"/><line x1="389.30" y1="46.47" x2="385.80" y2="46.47"/><line x1="44.00" y1="40.51" x2="47.50" y2="40.51"/><line x1="389.30" y1="40.51" x2="385.80" y2="40.51"/><line x1="44.00" y1="28.78" x2="47.50" y2="28.78"/><line x1="389.30" y1="28.78" x2="385.80" y2="28.78"/><line x1="44.00" y1="23.01" x2="47.50" y2="23.01"/><line x1="389.30" y1="23.01" x2="385.80" y2="23.01"/><line x1="44.00" y1="17.29" x2="47.50" y2="17.29"/><line x1="389.30" y1="17.29" x2="385.80" y2="17.29"/><line x1="44.00" y1="11.64" x2="47.50" y2="11.64"/><line x1="389.30" y1="11.64" x2="385.80" y2="11.64"/><line x1="44.00" y1="133.00" x2="51.00" y2="133.00"/><line x1="389.30" y1="133.00" x2="382.30" y2="133.00"/><line x1="44.00" y1="159.12" x2="51.00" y2="159.12"/><line x1="389.30" y1="159.12" x2="382.30" y2="159.12"/><line x1="44.00" y1="188.33" x2="51.00" y2="188.33"/><line x1="389.30" y1="188.33" x2="382.30" y2="188.33"/><line x1="44.00" y1="221.43" x2="51.00" y2="221.43"/><line x1="389.30" y1="221.43" x2="382.30" y2="221.43"/></g>
<g fill="none" stroke="#000" stroke-width="1.3"><rect x="44.0" y="0.6" width="345.3" height="129.85"/><rect x="44.0" y="130.45" width="345.3" height="129.25"/></g>
<g fill="#fff" stroke="#000" stroke-width="1.2"><rect x="54.7" y="52.7" width="85.3" height="70.3"/><rect x="54.7" y="194.4" width="85.3" height="57.5"/></g>
<line x1="58" y1="61.10" x2="72.6" y2="61.10" stroke="#40e0d0" stroke-width="1.1"/>
<text x="79.6" y="66.20" style="font-family:&quot;Liberation Serif&quot;,&quot;DejaVu Serif&quot;,serif;font-size:14.3px">U = 0.2W</text>
<line x1="58" y1="74.65" x2="72.6" y2="74.65" stroke="#ff0000" stroke-width="1.1"/>
<text x="79.6" y="79.75" style="font-family:&quot;Liberation Serif&quot;,&quot;DejaVu Serif&quot;,serif;font-size:14.3px">U = 0.3W</text>
<line x1="58" y1="88.20" x2="72.6" y2="88.20" stroke="#ffa500" stroke-width="1.1"/>
<text x="79.6" y="93.30" style="font-family:&quot;Liberation Serif&quot;,&quot;DejaVu Serif&quot;,serif;font-size:14.3px">U = 0.4W</text>
<line x1="58" y1="101.75" x2="72.6" y2="101.75" stroke="#0000ff" stroke-width="1.1"/>
<text x="79.6" y="106.85" style="font-family:&quot;Liberation Serif&quot;,&quot;DejaVu Serif&quot;,serif;font-size:14.3px">U = 0.5W</text>
<line x1="58" y1="115.30" x2="72.6" y2="115.30" stroke="#008b00" stroke-width="1.1"/>
<text x="79.6" y="120.40" style="font-family:&quot;Liberation Serif&quot;,&quot;DejaVu Serif&quot;,serif;font-size:14.3px">U = 0.6W</text>
<line x1="58" y1="202.80" x2="72.6" y2="202.80" stroke="#0000ff" stroke-width="1.1"/>
<text x="79.6" y="207.90" style="font-family:&quot;Liberation Serif&quot;,&quot;DejaVu Serif&quot;,serif;font-size:14.3px">U = 0.7W</text>
<line x1="58" y1="216.30" x2="72.6" y2="216.30" stroke="#ff0000" stroke-width="1.1"/>
<text x="79.6" y="221.40" style="font-family:&quot;Liberation Serif&quot;,&quot;DejaVu Serif&quot;,serif;font-size:14.3px">U = 0.8W</text>
<line x1="58" y1="229.80" x2="72.6" y2="229.80" stroke="#008b00" stroke-width="1.1"/>
<text x="79.6" y="234.90" style="font-family:&quot;Liberation Serif&quot;,&quot;DejaVu Serif&quot;,serif;font-size:14.3px">U = 0.9W</text>
<line x1="58" y1="243.30" x2="72.6" y2="243.30" stroke="#40e0d0" stroke-width="1.1"/>
<text x="79.6" y="248.40" style="font-family:&quot;Liberation Serif&quot;,&quot;DejaVu Serif&quot;,serif;font-size:14.3px">U = 1.0W</text>
<text transform="translate(40.80,10.94) scale(0.75,1)" text-anchor="end" style="font-family:&quot;Liberation Serif&quot;,&quot;DejaVu Serif&quot;,serif;font-size:14.3px">1</text>
<text transform="translate(41.40,39.51) scale(0.91,1)" text-anchor="end" style="font-family:&quot;Liberation Serif&quot;,&quot;DejaVu Serif&quot;,serif;font-size:14.3px">0.95</text>
<text transform="translate(41.40,69.63) scale(0.91,1)" text-anchor="end" style="font-family:&quot;Liberation Serif&quot;,&quot;DejaVu Serif&quot;,serif;font-size:14.3px">0.9</text>
<text transform="translate(41.40,101.47) scale(0.91,1)" text-anchor="end" style="font-family:&quot;Liberation Serif&quot;,&quot;DejaVu Serif&quot;,serif;font-size:14.3px">0.85</text>
<text transform="translate(40.80,137.90) scale(0.75,1)" text-anchor="end" style="font-family:&quot;Liberation Serif&quot;,&quot;DejaVu Serif&quot;,serif;font-size:14.3px">1</text>
<text transform="translate(41.40,164.02) scale(0.91,1)" text-anchor="end" style="font-family:&quot;Liberation Serif&quot;,&quot;DejaVu Serif&quot;,serif;font-size:14.3px">0.9</text>
<text transform="translate(41.40,193.23) scale(0.91,1)" text-anchor="end" style="font-family:&quot;Liberation Serif&quot;,&quot;DejaVu Serif&quot;,serif;font-size:14.3px">0.8</text>
<text transform="translate(41.40,226.33) scale(0.91,1)" text-anchor="end" style="font-family:&quot;Liberation Serif&quot;,&quot;DejaVu Serif&quot;,serif;font-size:14.3px">0.7</text>
<text transform="translate(41.40,264.60) scale(0.91,1)" text-anchor="end" style="font-family:&quot;Liberation Serif&quot;,&quot;DejaVu Serif&quot;,serif;font-size:14.3px">0.6</text>
<text transform="translate(44.50,272.80) scale(0.91,1)" text-anchor="middle" style="font-family:&quot;Liberation Serif&quot;,&quot;DejaVu Serif&quot;,serif;font-size:14.3px">0.1</text>
<text transform="translate(217.00,272.80) scale(0.91,1)" text-anchor="middle" style="font-family:&quot;Liberation Serif&quot;,&quot;DejaVu Serif&quot;,serif;font-size:14.3px">1</text>
<text transform="translate(389.50,272.80) scale(0.91,1)" text-anchor="middle" style="font-family:&quot;Liberation Serif&quot;,&quot;DejaVu Serif&quot;,serif;font-size:14.3px">10</text>
<text x="217.6" y="286" text-anchor="middle" style="font-family:&quot;Liberation Serif&quot;,&quot;DejaVu Serif&quot;,serif;font-size:14.4px">t [1/W]</text>
<text transform="translate(13.2,66.0) rotate(-90)" text-anchor="middle" style="font-family:&quot;Liberation Serif&quot;,&quot;DejaVu Serif&quot;,serif;font-size:13.8px">Δn(t)</text>
<text transform="translate(19.6,195.3) rotate(-90)" text-anchor="middle" style="font-family:&quot;Liberation Serif&quot;,&quot;DejaVu Serif&quot;,serif;font-size:13.8px">Δn(t)</text>
</svg></body></html>
